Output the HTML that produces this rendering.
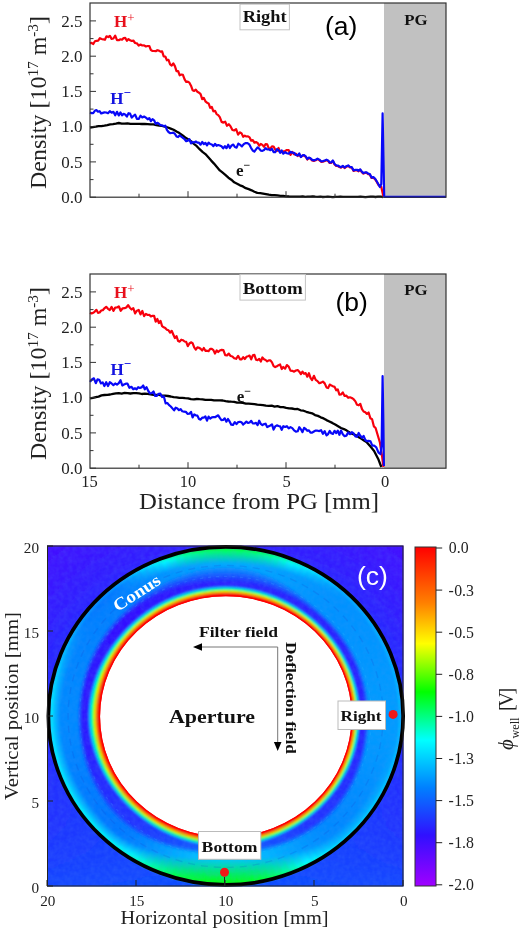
<!DOCTYPE html>
<html lang="en"><head><meta charset="utf-8"><title>Figure</title>
<style>html,body{margin:0;padding:0;background:#fff}svg{display:block}</style></head>
<body>
<svg width="520" height="932" viewBox="0 0 520 932">
<defs>
<linearGradient id="cb" x1="0" y1="0" x2="0" y2="1">
<stop offset="0.0000" stop-color="#ff0000"/>
<stop offset="0.1650" stop-color="#ff8000"/>
<stop offset="0.2850" stop-color="#ffff00"/>
<stop offset="0.4275" stop-color="#00ff00"/>
<stop offset="0.5700" stop-color="#00ffff"/>
<stop offset="0.7100" stop-color="#0080ff"/>
<stop offset="0.8500" stop-color="#3010ff"/>
<stop offset="1.0000" stop-color="#a000ff"/>
</linearGradient>
<radialGradient id="w0" gradientUnits="userSpaceOnUse" cx="0" cy="0" r="10">
<stop offset="0.6580" stop-color="#ff0000"/>
<stop offset="0.7170" stop-color="#ff0000"/>
<stop offset="0.7238" stop-color="#ff6b00"/>
<stop offset="0.7307" stop-color="#fff600"/>
<stop offset="0.7375" stop-color="#16ff00"/>
<stop offset="0.7443" stop-color="#00ffe1"/>
<stop offset="0.7512" stop-color="#0091ff"/>
<stop offset="0.7580" stop-color="#2920ff"/>
<stop offset="0.7830" stop-color="#2920ff"/>
<stop offset="0.8080" stop-color="#009bff"/>
<stop offset="0.9300" stop-color="#009bff"/>
<stop offset="0.9710" stop-color="#009bff"/>
<stop offset="0.9850" stop-color="#00c9ff"/>
</radialGradient>
<radialGradient id="w1" gradientUnits="userSpaceOnUse" cx="0" cy="0" r="10">
<stop offset="0.6580" stop-color="#ff0000"/>
<stop offset="0.7170" stop-color="#ff0000"/>
<stop offset="0.7238" stop-color="#ff6b00"/>
<stop offset="0.7307" stop-color="#fff600"/>
<stop offset="0.7375" stop-color="#16ff00"/>
<stop offset="0.7443" stop-color="#00ffe1"/>
<stop offset="0.7511" stop-color="#0091ff"/>
<stop offset="0.7580" stop-color="#2920ff"/>
<stop offset="0.7831" stop-color="#2920ff"/>
<stop offset="0.8081" stop-color="#009bff"/>
<stop offset="0.9300" stop-color="#009bff"/>
<stop offset="0.9710" stop-color="#009bff"/>
<stop offset="0.9850" stop-color="#00c8ff"/>
</radialGradient>
<radialGradient id="w2" gradientUnits="userSpaceOnUse" cx="0" cy="0" r="10">
<stop offset="0.6580" stop-color="#ff0000"/>
<stop offset="0.7170" stop-color="#ff0000"/>
<stop offset="0.7238" stop-color="#ff6b00"/>
<stop offset="0.7306" stop-color="#fff600"/>
<stop offset="0.7374" stop-color="#16ff00"/>
<stop offset="0.7443" stop-color="#00ffe1"/>
<stop offset="0.7511" stop-color="#0091ff"/>
<stop offset="0.7579" stop-color="#2920ff"/>
<stop offset="0.7832" stop-color="#2920ff"/>
<stop offset="0.8082" stop-color="#009bff"/>
<stop offset="0.9300" stop-color="#009bff"/>
<stop offset="0.9710" stop-color="#009bff"/>
<stop offset="0.9850" stop-color="#00c8ff"/>
</radialGradient>
<radialGradient id="w3" gradientUnits="userSpaceOnUse" cx="0" cy="0" r="10">
<stop offset="0.6580" stop-color="#ff0000"/>
<stop offset="0.7170" stop-color="#ff0000"/>
<stop offset="0.7238" stop-color="#ff6b00"/>
<stop offset="0.7306" stop-color="#fff600"/>
<stop offset="0.7374" stop-color="#16ff00"/>
<stop offset="0.7442" stop-color="#00ffe1"/>
<stop offset="0.7510" stop-color="#0091ff"/>
<stop offset="0.7578" stop-color="#2920ff"/>
<stop offset="0.7833" stop-color="#2920ff"/>
<stop offset="0.8083" stop-color="#009aff"/>
<stop offset="0.9300" stop-color="#009aff"/>
<stop offset="0.9710" stop-color="#009aff"/>
<stop offset="0.9850" stop-color="#00c8ff"/>
</radialGradient>
<radialGradient id="w4" gradientUnits="userSpaceOnUse" cx="0" cy="0" r="10">
<stop offset="0.6580" stop-color="#ff0000"/>
<stop offset="0.7170" stop-color="#ff0000"/>
<stop offset="0.7238" stop-color="#ff6b00"/>
<stop offset="0.7306" stop-color="#fff600"/>
<stop offset="0.7373" stop-color="#16ff00"/>
<stop offset="0.7441" stop-color="#00ffe1"/>
<stop offset="0.7509" stop-color="#0091ff"/>
<stop offset="0.7577" stop-color="#2920ff"/>
<stop offset="0.7835" stop-color="#2920ff"/>
<stop offset="0.8085" stop-color="#009aff"/>
<stop offset="0.9300" stop-color="#009aff"/>
<stop offset="0.9710" stop-color="#009aff"/>
<stop offset="0.9850" stop-color="#00c7ff"/>
</radialGradient>
<radialGradient id="w5" gradientUnits="userSpaceOnUse" cx="0" cy="0" r="10">
<stop offset="0.6580" stop-color="#ff0000"/>
<stop offset="0.7170" stop-color="#ff0000"/>
<stop offset="0.7238" stop-color="#ff6b00"/>
<stop offset="0.7305" stop-color="#fff600"/>
<stop offset="0.7373" stop-color="#16ff00"/>
<stop offset="0.7440" stop-color="#00ffe1"/>
<stop offset="0.7508" stop-color="#0091ff"/>
<stop offset="0.7576" stop-color="#2920ff"/>
<stop offset="0.7837" stop-color="#2920ff"/>
<stop offset="0.8087" stop-color="#0099ff"/>
<stop offset="0.9300" stop-color="#0099ff"/>
<stop offset="0.9710" stop-color="#0099ff"/>
<stop offset="0.9850" stop-color="#00c7ff"/>
</radialGradient>
<radialGradient id="w6" gradientUnits="userSpaceOnUse" cx="0" cy="0" r="10">
<stop offset="0.6580" stop-color="#ff0000"/>
<stop offset="0.7170" stop-color="#ff0000"/>
<stop offset="0.7237" stop-color="#ff6b00"/>
<stop offset="0.7305" stop-color="#fff600"/>
<stop offset="0.7372" stop-color="#16ff00"/>
<stop offset="0.7439" stop-color="#00ffe1"/>
<stop offset="0.7507" stop-color="#0091ff"/>
<stop offset="0.7574" stop-color="#2920ff"/>
<stop offset="0.7839" stop-color="#2920ff"/>
<stop offset="0.8089" stop-color="#0099ff"/>
<stop offset="0.9300" stop-color="#0099ff"/>
<stop offset="0.9710" stop-color="#0099ff"/>
<stop offset="0.9850" stop-color="#00c6ff"/>
</radialGradient>
<radialGradient id="w7" gradientUnits="userSpaceOnUse" cx="0" cy="0" r="10">
<stop offset="0.6580" stop-color="#ff0000"/>
<stop offset="0.7170" stop-color="#ff0000"/>
<stop offset="0.7237" stop-color="#ff6b00"/>
<stop offset="0.7304" stop-color="#fff600"/>
<stop offset="0.7371" stop-color="#16ff00"/>
<stop offset="0.7438" stop-color="#00ffe1"/>
<stop offset="0.7505" stop-color="#0091ff"/>
<stop offset="0.7572" stop-color="#2920ff"/>
<stop offset="0.7841" stop-color="#2920ff"/>
<stop offset="0.8091" stop-color="#0098ff"/>
<stop offset="0.9300" stop-color="#0098ff"/>
<stop offset="0.9710" stop-color="#0098ff"/>
<stop offset="0.9850" stop-color="#00c5ff"/>
</radialGradient>
<radialGradient id="w8" gradientUnits="userSpaceOnUse" cx="0" cy="0" r="10">
<stop offset="0.6580" stop-color="#ff0000"/>
<stop offset="0.7170" stop-color="#ff0000"/>
<stop offset="0.7237" stop-color="#ff6b00"/>
<stop offset="0.7304" stop-color="#fff600"/>
<stop offset="0.7370" stop-color="#16ff00"/>
<stop offset="0.7437" stop-color="#00ffe1"/>
<stop offset="0.7504" stop-color="#0091ff"/>
<stop offset="0.7571" stop-color="#2920ff"/>
<stop offset="0.7844" stop-color="#2920ff"/>
<stop offset="0.8094" stop-color="#0097ff"/>
<stop offset="0.9300" stop-color="#0097ff"/>
<stop offset="0.9710" stop-color="#0097ff"/>
<stop offset="0.9850" stop-color="#00c4ff"/>
</radialGradient>
<radialGradient id="w9" gradientUnits="userSpaceOnUse" cx="0" cy="0" r="10">
<stop offset="0.6580" stop-color="#ff0000"/>
<stop offset="0.7170" stop-color="#ff0000"/>
<stop offset="0.7237" stop-color="#ff6b00"/>
<stop offset="0.7303" stop-color="#fff600"/>
<stop offset="0.7370" stop-color="#16ff00"/>
<stop offset="0.7436" stop-color="#00ffe1"/>
<stop offset="0.7503" stop-color="#0091ff"/>
<stop offset="0.7569" stop-color="#2920ff"/>
<stop offset="0.7846" stop-color="#2920ff"/>
<stop offset="0.8096" stop-color="#0096ff"/>
<stop offset="0.9300" stop-color="#0096ff"/>
<stop offset="0.9710" stop-color="#0096ff"/>
<stop offset="0.9850" stop-color="#00c4ff"/>
</radialGradient>
<radialGradient id="w10" gradientUnits="userSpaceOnUse" cx="0" cy="0" r="10">
<stop offset="0.6580" stop-color="#ff0000"/>
<stop offset="0.7170" stop-color="#ff0000"/>
<stop offset="0.7236" stop-color="#ff6b00"/>
<stop offset="0.7303" stop-color="#fff600"/>
<stop offset="0.7369" stop-color="#16ff00"/>
<stop offset="0.7435" stop-color="#00ffe1"/>
<stop offset="0.7501" stop-color="#0091ff"/>
<stop offset="0.7568" stop-color="#2920ff"/>
<stop offset="0.7849" stop-color="#2920ff"/>
<stop offset="0.8099" stop-color="#0096ff"/>
<stop offset="0.9300" stop-color="#0096ff"/>
<stop offset="0.9710" stop-color="#0096ff"/>
<stop offset="0.9850" stop-color="#00c3ff"/>
</radialGradient>
<radialGradient id="w11" gradientUnits="userSpaceOnUse" cx="0" cy="0" r="10">
<stop offset="0.6580" stop-color="#ff0000"/>
<stop offset="0.7170" stop-color="#ff0000"/>
<stop offset="0.7236" stop-color="#ff6b00"/>
<stop offset="0.7302" stop-color="#fff600"/>
<stop offset="0.7368" stop-color="#16ff00"/>
<stop offset="0.7434" stop-color="#00ffe1"/>
<stop offset="0.7500" stop-color="#0091ff"/>
<stop offset="0.7566" stop-color="#2920ff"/>
<stop offset="0.7851" stop-color="#2920ff"/>
<stop offset="0.8101" stop-color="#0095ff"/>
<stop offset="0.9300" stop-color="#0095ff"/>
<stop offset="0.9710" stop-color="#0095ff"/>
<stop offset="0.9850" stop-color="#00c2ff"/>
</radialGradient>
<radialGradient id="w12" gradientUnits="userSpaceOnUse" cx="0" cy="0" r="10">
<stop offset="0.6580" stop-color="#ff0000"/>
<stop offset="0.7170" stop-color="#ff0000"/>
<stop offset="0.7236" stop-color="#ff6b00"/>
<stop offset="0.7301" stop-color="#fff600"/>
<stop offset="0.7367" stop-color="#16ff00"/>
<stop offset="0.7433" stop-color="#00ffe1"/>
<stop offset="0.7499" stop-color="#0091ff"/>
<stop offset="0.7564" stop-color="#2920ff"/>
<stop offset="0.7853" stop-color="#2920ff"/>
<stop offset="0.8103" stop-color="#0094ff"/>
<stop offset="0.9300" stop-color="#0094ff"/>
<stop offset="0.9710" stop-color="#0094ff"/>
<stop offset="0.9850" stop-color="#00c2ff"/>
</radialGradient>
<radialGradient id="w13" gradientUnits="userSpaceOnUse" cx="0" cy="0" r="10">
<stop offset="0.6580" stop-color="#ff0000"/>
<stop offset="0.7170" stop-color="#ff0000"/>
<stop offset="0.7236" stop-color="#ff6b00"/>
<stop offset="0.7301" stop-color="#fff600"/>
<stop offset="0.7367" stop-color="#16ff00"/>
<stop offset="0.7432" stop-color="#00ffe1"/>
<stop offset="0.7498" stop-color="#0091ff"/>
<stop offset="0.7563" stop-color="#2920ff"/>
<stop offset="0.7855" stop-color="#2920ff"/>
<stop offset="0.8105" stop-color="#0094ff"/>
<stop offset="0.9300" stop-color="#0094ff"/>
<stop offset="0.9710" stop-color="#0094ff"/>
<stop offset="0.9850" stop-color="#00c1ff"/>
</radialGradient>
<radialGradient id="w14" gradientUnits="userSpaceOnUse" cx="0" cy="0" r="10">
<stop offset="0.6580" stop-color="#ff0000"/>
<stop offset="0.7170" stop-color="#ff0000"/>
<stop offset="0.7235" stop-color="#ff6b00"/>
<stop offset="0.7301" stop-color="#fff600"/>
<stop offset="0.7366" stop-color="#16ff00"/>
<stop offset="0.7431" stop-color="#00ffe1"/>
<stop offset="0.7497" stop-color="#0091ff"/>
<stop offset="0.7562" stop-color="#2920ff"/>
<stop offset="0.7857" stop-color="#2920ff"/>
<stop offset="0.8107" stop-color="#0093ff"/>
<stop offset="0.9300" stop-color="#0093ff"/>
<stop offset="0.9710" stop-color="#0093ff"/>
<stop offset="0.9850" stop-color="#00c1ff"/>
</radialGradient>
<radialGradient id="w15" gradientUnits="userSpaceOnUse" cx="0" cy="0" r="10">
<stop offset="0.6580" stop-color="#ff0000"/>
<stop offset="0.7170" stop-color="#ff0000"/>
<stop offset="0.7235" stop-color="#ff6b00"/>
<stop offset="0.7300" stop-color="#fff600"/>
<stop offset="0.7366" stop-color="#16ff00"/>
<stop offset="0.7431" stop-color="#00ffe1"/>
<stop offset="0.7496" stop-color="#0091ff"/>
<stop offset="0.7561" stop-color="#2920ff"/>
<stop offset="0.7858" stop-color="#2920ff"/>
<stop offset="0.8108" stop-color="#0093ff"/>
<stop offset="0.9300" stop-color="#0093ff"/>
<stop offset="0.9710" stop-color="#0093ff"/>
<stop offset="0.9850" stop-color="#00c0ff"/>
</radialGradient>
<radialGradient id="w16" gradientUnits="userSpaceOnUse" cx="0" cy="0" r="10">
<stop offset="0.6580" stop-color="#ff0000"/>
<stop offset="0.7170" stop-color="#ff0000"/>
<stop offset="0.7235" stop-color="#ff6b00"/>
<stop offset="0.7300" stop-color="#fff600"/>
<stop offset="0.7365" stop-color="#16ff00"/>
<stop offset="0.7430" stop-color="#00ffe1"/>
<stop offset="0.7495" stop-color="#0091ff"/>
<stop offset="0.7560" stop-color="#2920ff"/>
<stop offset="0.7859" stop-color="#2920ff"/>
<stop offset="0.8109" stop-color="#0092ff"/>
<stop offset="0.9300" stop-color="#0092ff"/>
<stop offset="0.9710" stop-color="#0093ff"/>
<stop offset="0.9850" stop-color="#00c0ff"/>
</radialGradient>
<radialGradient id="w17" gradientUnits="userSpaceOnUse" cx="0" cy="0" r="10">
<stop offset="0.6580" stop-color="#ff0000"/>
<stop offset="0.7170" stop-color="#ff0000"/>
<stop offset="0.7235" stop-color="#ff6b00"/>
<stop offset="0.7300" stop-color="#fff600"/>
<stop offset="0.7365" stop-color="#16ff00"/>
<stop offset="0.7430" stop-color="#00ffe1"/>
<stop offset="0.7495" stop-color="#0091ff"/>
<stop offset="0.7560" stop-color="#2920ff"/>
<stop offset="0.7860" stop-color="#2920ff"/>
<stop offset="0.8110" stop-color="#0092ff"/>
<stop offset="0.9300" stop-color="#0092ff"/>
<stop offset="0.9710" stop-color="#0093ff"/>
<stop offset="0.9850" stop-color="#00c1ff"/>
</radialGradient>
<radialGradient id="w18" gradientUnits="userSpaceOnUse" cx="0" cy="0" r="10">
<stop offset="0.6580" stop-color="#ff0000"/>
<stop offset="0.7170" stop-color="#ff0000"/>
<stop offset="0.7235" stop-color="#ff6b00"/>
<stop offset="0.7300" stop-color="#fff600"/>
<stop offset="0.7365" stop-color="#16ff00"/>
<stop offset="0.7430" stop-color="#00ffe1"/>
<stop offset="0.7495" stop-color="#0091ff"/>
<stop offset="0.7560" stop-color="#2920ff"/>
<stop offset="0.7860" stop-color="#2920ff"/>
<stop offset="0.8112" stop-color="#0092ff"/>
<stop offset="0.9299" stop-color="#0092ff"/>
<stop offset="0.9710" stop-color="#0094ff"/>
<stop offset="0.9850" stop-color="#00c2ff"/>
</radialGradient>
<radialGradient id="w19" gradientUnits="userSpaceOnUse" cx="0" cy="0" r="10">
<stop offset="0.6580" stop-color="#ff0000"/>
<stop offset="0.7170" stop-color="#ff0000"/>
<stop offset="0.7235" stop-color="#ff6b00"/>
<stop offset="0.7301" stop-color="#fff600"/>
<stop offset="0.7366" stop-color="#16ff00"/>
<stop offset="0.7431" stop-color="#00ffe1"/>
<stop offset="0.7497" stop-color="#0091ff"/>
<stop offset="0.7562" stop-color="#2920ff"/>
<stop offset="0.7860" stop-color="#2920ff"/>
<stop offset="0.8125" stop-color="#0093ff"/>
<stop offset="0.9293" stop-color="#0093ff"/>
<stop offset="0.9710" stop-color="#0098ff"/>
<stop offset="0.9850" stop-color="#00c5ff"/>
</radialGradient>
<radialGradient id="w20" gradientUnits="userSpaceOnUse" cx="0" cy="0" r="10">
<stop offset="0.6580" stop-color="#ff0000"/>
<stop offset="0.7170" stop-color="#ff0000"/>
<stop offset="0.7236" stop-color="#ff6b00"/>
<stop offset="0.7302" stop-color="#fff600"/>
<stop offset="0.7368" stop-color="#16ff00"/>
<stop offset="0.7434" stop-color="#00ffe1"/>
<stop offset="0.7499" stop-color="#0091ff"/>
<stop offset="0.7565" stop-color="#2920ff"/>
<stop offset="0.7860" stop-color="#2920ff"/>
<stop offset="0.8149" stop-color="#0093ff"/>
<stop offset="0.9282" stop-color="#0093ff"/>
<stop offset="0.9710" stop-color="#009eff"/>
<stop offset="0.9850" stop-color="#00ccff"/>
</radialGradient>
<radialGradient id="w21" gradientUnits="userSpaceOnUse" cx="0" cy="0" r="10">
<stop offset="0.6580" stop-color="#ff0000"/>
<stop offset="0.7170" stop-color="#ff0000"/>
<stop offset="0.7237" stop-color="#ff6b00"/>
<stop offset="0.7303" stop-color="#fff600"/>
<stop offset="0.7370" stop-color="#16ff00"/>
<stop offset="0.7437" stop-color="#00ffe1"/>
<stop offset="0.7503" stop-color="#0091ff"/>
<stop offset="0.7570" stop-color="#2920ff"/>
<stop offset="0.7860" stop-color="#2920ff"/>
<stop offset="0.8184" stop-color="#0094ff"/>
<stop offset="0.9265" stop-color="#0094ff"/>
<stop offset="0.9710" stop-color="#00a7ff"/>
<stop offset="0.9850" stop-color="#00d5ff"/>
</radialGradient>
<radialGradient id="w22" gradientUnits="userSpaceOnUse" cx="0" cy="0" r="10">
<stop offset="0.6580" stop-color="#ff0000"/>
<stop offset="0.7170" stop-color="#ff0000"/>
<stop offset="0.7238" stop-color="#ff6b00"/>
<stop offset="0.7305" stop-color="#fff600"/>
<stop offset="0.7373" stop-color="#16ff00"/>
<stop offset="0.7440" stop-color="#00ffe1"/>
<stop offset="0.7508" stop-color="#0091ff"/>
<stop offset="0.7576" stop-color="#2920ff"/>
<stop offset="0.7860" stop-color="#2920ff"/>
<stop offset="0.8227" stop-color="#0096ff"/>
<stop offset="0.9245" stop-color="#0096ff"/>
<stop offset="0.9710" stop-color="#00b3ff"/>
<stop offset="0.9850" stop-color="#00e0ff"/>
</radialGradient>
<radialGradient id="w23" gradientUnits="userSpaceOnUse" cx="0" cy="0" r="10">
<stop offset="0.6580" stop-color="#ff0000"/>
<stop offset="0.7170" stop-color="#ff0000"/>
<stop offset="0.7239" stop-color="#ff6b00"/>
<stop offset="0.7307" stop-color="#fff600"/>
<stop offset="0.7376" stop-color="#16ff00"/>
<stop offset="0.7445" stop-color="#00ffe1"/>
<stop offset="0.7514" stop-color="#0091ff"/>
<stop offset="0.7582" stop-color="#2920ff"/>
<stop offset="0.7860" stop-color="#2920ff"/>
<stop offset="0.8277" stop-color="#0097ff"/>
<stop offset="0.9222" stop-color="#0097ff"/>
<stop offset="0.9710" stop-color="#00c0ff"/>
<stop offset="0.9850" stop-color="#00edff"/>
</radialGradient>
<radialGradient id="w24" gradientUnits="userSpaceOnUse" cx="0" cy="0" r="10">
<stop offset="0.6580" stop-color="#ff0000"/>
<stop offset="0.7170" stop-color="#ff0000"/>
<stop offset="0.7240" stop-color="#ff6b00"/>
<stop offset="0.7310" stop-color="#fff600"/>
<stop offset="0.7380" stop-color="#16ff00"/>
<stop offset="0.7450" stop-color="#00ffe1"/>
<stop offset="0.7520" stop-color="#0091ff"/>
<stop offset="0.7590" stop-color="#2920ff"/>
<stop offset="0.7860" stop-color="#2920ff"/>
<stop offset="0.8333" stop-color="#0099ff"/>
<stop offset="0.9196" stop-color="#0099ff"/>
<stop offset="0.9710" stop-color="#00cfff"/>
<stop offset="0.9850" stop-color="#00fdff"/>
</radialGradient>
<radialGradient id="w25" gradientUnits="userSpaceOnUse" cx="0" cy="0" r="10">
<stop offset="0.6580" stop-color="#ff0000"/>
<stop offset="0.7170" stop-color="#ff0000"/>
<stop offset="0.7241" stop-color="#ff6b00"/>
<stop offset="0.7313" stop-color="#fff600"/>
<stop offset="0.7384" stop-color="#16ff00"/>
<stop offset="0.7455" stop-color="#00ffe1"/>
<stop offset="0.7526" stop-color="#0091ff"/>
<stop offset="0.7598" stop-color="#2920ff"/>
<stop offset="0.7860" stop-color="#2920ff"/>
<stop offset="0.8392" stop-color="#009bff"/>
<stop offset="0.9168" stop-color="#009bff"/>
<stop offset="0.9710" stop-color="#00e0ff"/>
<stop offset="0.9850" stop-color="#00ffe3"/>
</radialGradient>
<radialGradient id="w26" gradientUnits="userSpaceOnUse" cx="0" cy="0" r="10">
<stop offset="0.6580" stop-color="#ff0000"/>
<stop offset="0.7170" stop-color="#ff0000"/>
<stop offset="0.7243" stop-color="#ff6b00"/>
<stop offset="0.7315" stop-color="#fff600"/>
<stop offset="0.7388" stop-color="#16ff00"/>
<stop offset="0.7461" stop-color="#00ffe1"/>
<stop offset="0.7533" stop-color="#0091ff"/>
<stop offset="0.7606" stop-color="#2920ff"/>
<stop offset="0.7860" stop-color="#2920ff"/>
<stop offset="0.8454" stop-color="#009dff"/>
<stop offset="0.9140" stop-color="#009dff"/>
<stop offset="0.9710" stop-color="#00f1ff"/>
<stop offset="0.9850" stop-color="#00ffc0"/>
</radialGradient>
<radialGradient id="w27" gradientUnits="userSpaceOnUse" cx="0" cy="0" r="10">
<stop offset="0.6580" stop-color="#ff0000"/>
<stop offset="0.7170" stop-color="#ff0000"/>
<stop offset="0.7244" stop-color="#ff6b00"/>
<stop offset="0.7318" stop-color="#fff600"/>
<stop offset="0.7392" stop-color="#16ff00"/>
<stop offset="0.7466" stop-color="#00ffe1"/>
<stop offset="0.7540" stop-color="#0091ff"/>
<stop offset="0.7614" stop-color="#2920ff"/>
<stop offset="0.7860" stop-color="#2920ff"/>
<stop offset="0.8516" stop-color="#009eff"/>
<stop offset="0.9110" stop-color="#009eff"/>
<stop offset="0.9710" stop-color="#00fff8"/>
<stop offset="0.9850" stop-color="#00ff9e"/>
</radialGradient>
<radialGradient id="w28" gradientUnits="userSpaceOnUse" cx="0" cy="0" r="10">
<stop offset="0.6580" stop-color="#ff0000"/>
<stop offset="0.7170" stop-color="#ff0000"/>
<stop offset="0.7245" stop-color="#ff6b00"/>
<stop offset="0.7321" stop-color="#fff600"/>
<stop offset="0.7396" stop-color="#16ff00"/>
<stop offset="0.7472" stop-color="#00ffe1"/>
<stop offset="0.7547" stop-color="#0091ff"/>
<stop offset="0.7622" stop-color="#2920ff"/>
<stop offset="0.7860" stop-color="#2920ff"/>
<stop offset="0.8578" stop-color="#00a0ff"/>
<stop offset="0.9082" stop-color="#00a0ff"/>
<stop offset="0.9710" stop-color="#00ffd7"/>
<stop offset="0.9850" stop-color="#00ff7e"/>
</radialGradient>
<radialGradient id="w29" gradientUnits="userSpaceOnUse" cx="0" cy="0" r="10">
<stop offset="0.6580" stop-color="#ff0000"/>
<stop offset="0.7170" stop-color="#ff0000"/>
<stop offset="0.7247" stop-color="#ff6b00"/>
<stop offset="0.7323" stop-color="#fff600"/>
<stop offset="0.7400" stop-color="#16ff00"/>
<stop offset="0.7477" stop-color="#00ffe1"/>
<stop offset="0.7554" stop-color="#0091ff"/>
<stop offset="0.7630" stop-color="#2920ff"/>
<stop offset="0.7860" stop-color="#2920ff"/>
<stop offset="0.8637" stop-color="#00a2ff"/>
<stop offset="0.9054" stop-color="#00a2ff"/>
<stop offset="0.9710" stop-color="#00ffba"/>
<stop offset="0.9850" stop-color="#00ff60"/>
</radialGradient>
<radialGradient id="w30" gradientUnits="userSpaceOnUse" cx="0" cy="0" r="10">
<stop offset="0.6580" stop-color="#ff0000"/>
<stop offset="0.7170" stop-color="#ff0000"/>
<stop offset="0.7248" stop-color="#ff6b00"/>
<stop offset="0.7326" stop-color="#fff600"/>
<stop offset="0.7404" stop-color="#16ff00"/>
<stop offset="0.7482" stop-color="#00ffe1"/>
<stop offset="0.7560" stop-color="#0091ff"/>
<stop offset="0.7638" stop-color="#2920ff"/>
<stop offset="0.7860" stop-color="#2920ff"/>
<stop offset="0.8693" stop-color="#00a4ff"/>
<stop offset="0.9028" stop-color="#00a4ff"/>
<stop offset="0.9710" stop-color="#00ffa0"/>
<stop offset="0.9850" stop-color="#00ff47"/>
</radialGradient>
<radialGradient id="w31" gradientUnits="userSpaceOnUse" cx="0" cy="0" r="10">
<stop offset="0.6580" stop-color="#ff0000"/>
<stop offset="0.7170" stop-color="#ff0000"/>
<stop offset="0.7249" stop-color="#ff6b00"/>
<stop offset="0.7328" stop-color="#fff600"/>
<stop offset="0.7407" stop-color="#16ff00"/>
<stop offset="0.7486" stop-color="#00ffe1"/>
<stop offset="0.7565" stop-color="#0091ff"/>
<stop offset="0.7644" stop-color="#2920ff"/>
<stop offset="0.7860" stop-color="#2920ff"/>
<stop offset="0.8743" stop-color="#00a5ff"/>
<stop offset="0.9005" stop-color="#00a5ff"/>
<stop offset="0.9710" stop-color="#00ff8c"/>
<stop offset="0.9850" stop-color="#00ff32"/>
</radialGradient>
<radialGradient id="w32" gradientUnits="userSpaceOnUse" cx="0" cy="0" r="10">
<stop offset="0.6580" stop-color="#ff0000"/>
<stop offset="0.7170" stop-color="#ff0000"/>
<stop offset="0.7250" stop-color="#ff6b00"/>
<stop offset="0.7330" stop-color="#fff600"/>
<stop offset="0.7410" stop-color="#16ff00"/>
<stop offset="0.7490" stop-color="#00ffe1"/>
<stop offset="0.7570" stop-color="#0091ff"/>
<stop offset="0.7650" stop-color="#2920ff"/>
<stop offset="0.7860" stop-color="#2920ff"/>
<stop offset="0.8786" stop-color="#00a7ff"/>
<stop offset="0.8985" stop-color="#00a7ff"/>
<stop offset="0.9710" stop-color="#00ff7c"/>
<stop offset="0.9850" stop-color="#00ff23"/>
</radialGradient>
<radialGradient id="w33" gradientUnits="userSpaceOnUse" cx="0" cy="0" r="10">
<stop offset="0.6580" stop-color="#ff0000"/>
<stop offset="0.7170" stop-color="#ff0000"/>
<stop offset="0.7251" stop-color="#ff6b00"/>
<stop offset="0.7332" stop-color="#fff600"/>
<stop offset="0.7412" stop-color="#16ff00"/>
<stop offset="0.7493" stop-color="#00ffe1"/>
<stop offset="0.7574" stop-color="#0091ff"/>
<stop offset="0.7655" stop-color="#2920ff"/>
<stop offset="0.7860" stop-color="#2920ff"/>
<stop offset="0.8821" stop-color="#00a8ff"/>
<stop offset="0.8968" stop-color="#00a8ff"/>
<stop offset="0.9710" stop-color="#00ff71"/>
<stop offset="0.9850" stop-color="#00ff18"/>
</radialGradient>
<radialGradient id="w34" gradientUnits="userSpaceOnUse" cx="0" cy="0" r="10">
<stop offset="0.6580" stop-color="#ff0000"/>
<stop offset="0.7170" stop-color="#ff0000"/>
<stop offset="0.7251" stop-color="#ff6b00"/>
<stop offset="0.7333" stop-color="#fff600"/>
<stop offset="0.7414" stop-color="#16ff00"/>
<stop offset="0.7495" stop-color="#00ffe1"/>
<stop offset="0.7577" stop-color="#0091ff"/>
<stop offset="0.7658" stop-color="#2920ff"/>
<stop offset="0.7860" stop-color="#2920ff"/>
<stop offset="0.8845" stop-color="#00a8ff"/>
<stop offset="0.8957" stop-color="#00a8ff"/>
<stop offset="0.9710" stop-color="#00ff6a"/>
<stop offset="0.9850" stop-color="#00ff11"/>
</radialGradient>
<radialGradient id="w35" gradientUnits="userSpaceOnUse" cx="0" cy="0" r="10">
<stop offset="0.6580" stop-color="#ff0000"/>
<stop offset="0.7170" stop-color="#ff0000"/>
<stop offset="0.7252" stop-color="#ff6b00"/>
<stop offset="0.7333" stop-color="#fff600"/>
<stop offset="0.7415" stop-color="#16ff00"/>
<stop offset="0.7497" stop-color="#00ffe1"/>
<stop offset="0.7578" stop-color="#0091ff"/>
<stop offset="0.7660" stop-color="#2920ff"/>
<stop offset="0.7860" stop-color="#2920ff"/>
<stop offset="0.8858" stop-color="#00a9ff"/>
<stop offset="0.8951" stop-color="#00a9ff"/>
<stop offset="0.9710" stop-color="#00ff67"/>
<stop offset="0.9850" stop-color="#00ff0e"/>
</radialGradient>
<radialGradient id="w36" gradientUnits="userSpaceOnUse" cx="0" cy="0" r="10">
<stop offset="0.6580" stop-color="#ff0000"/>
<stop offset="0.7170" stop-color="#ff0000"/>
<stop offset="0.7252" stop-color="#ff6b00"/>
<stop offset="0.7333" stop-color="#fff600"/>
<stop offset="0.7415" stop-color="#16ff00"/>
<stop offset="0.7497" stop-color="#00ffe1"/>
<stop offset="0.7578" stop-color="#0091ff"/>
<stop offset="0.7660" stop-color="#2920ff"/>
<stop offset="0.7861" stop-color="#2920ff"/>
<stop offset="0.8859" stop-color="#00a9ff"/>
<stop offset="0.8951" stop-color="#00a9ff"/>
<stop offset="0.9710" stop-color="#00ff67"/>
<stop offset="0.9850" stop-color="#00ff0e"/>
</radialGradient>
<radialGradient id="w37" gradientUnits="userSpaceOnUse" cx="0" cy="0" r="10">
<stop offset="0.6580" stop-color="#ff0000"/>
<stop offset="0.7170" stop-color="#ff0000"/>
<stop offset="0.7252" stop-color="#ff6b00"/>
<stop offset="0.7333" stop-color="#fff600"/>
<stop offset="0.7415" stop-color="#16ff00"/>
<stop offset="0.7496" stop-color="#00ffe2"/>
<stop offset="0.7578" stop-color="#0090ff"/>
<stop offset="0.7659" stop-color="#2920ff"/>
<stop offset="0.7865" stop-color="#2920ff"/>
<stop offset="0.8852" stop-color="#00a8ff"/>
<stop offset="0.8955" stop-color="#00a8ff"/>
<stop offset="0.9710" stop-color="#00ff6b"/>
<stop offset="0.9850" stop-color="#00ff11"/>
</radialGradient>
<radialGradient id="w38" gradientUnits="userSpaceOnUse" cx="0" cy="0" r="10">
<stop offset="0.6580" stop-color="#ff0000"/>
<stop offset="0.7170" stop-color="#ff0000"/>
<stop offset="0.7251" stop-color="#ff6b00"/>
<stop offset="0.7333" stop-color="#fff700"/>
<stop offset="0.7414" stop-color="#15ff00"/>
<stop offset="0.7496" stop-color="#00ffe2"/>
<stop offset="0.7577" stop-color="#0090ff"/>
<stop offset="0.7658" stop-color="#2a1fff"/>
<stop offset="0.7874" stop-color="#2a1fff"/>
<stop offset="0.8837" stop-color="#00a7ff"/>
<stop offset="0.8963" stop-color="#00a7ff"/>
<stop offset="0.9710" stop-color="#00ff72"/>
<stop offset="0.9850" stop-color="#00ff18"/>
</radialGradient>
<radialGradient id="w39" gradientUnits="userSpaceOnUse" cx="0" cy="0" r="10">
<stop offset="0.6580" stop-color="#ff0000"/>
<stop offset="0.7170" stop-color="#ff0000"/>
<stop offset="0.7251" stop-color="#ff6c00"/>
<stop offset="0.7332" stop-color="#fff700"/>
<stop offset="0.7414" stop-color="#15ff00"/>
<stop offset="0.7495" stop-color="#00ffe4"/>
<stop offset="0.7576" stop-color="#008fff"/>
<stop offset="0.7657" stop-color="#2a1eff"/>
<stop offset="0.7887" stop-color="#2a1eff"/>
<stop offset="0.8818" stop-color="#00a5ff"/>
<stop offset="0.8975" stop-color="#00a5ff"/>
<stop offset="0.9710" stop-color="#00ff7d"/>
<stop offset="0.9850" stop-color="#00ff24"/>
</radialGradient>
<radialGradient id="w40" gradientUnits="userSpaceOnUse" cx="0" cy="0" r="10">
<stop offset="0.6580" stop-color="#ff0000"/>
<stop offset="0.7170" stop-color="#ff0000"/>
<stop offset="0.7251" stop-color="#ff6c00"/>
<stop offset="0.7332" stop-color="#fff700"/>
<stop offset="0.7413" stop-color="#14ff00"/>
<stop offset="0.7494" stop-color="#00ffe5"/>
<stop offset="0.7574" stop-color="#008eff"/>
<stop offset="0.7655" stop-color="#2a1dff"/>
<stop offset="0.7902" stop-color="#2a1dff"/>
<stop offset="0.8793" stop-color="#00a2ff"/>
<stop offset="0.8989" stop-color="#00a2ff"/>
<stop offset="0.9710" stop-color="#00ff8e"/>
<stop offset="0.9850" stop-color="#00ff35"/>
</radialGradient>
<radialGradient id="w41" gradientUnits="userSpaceOnUse" cx="0" cy="0" r="10">
<stop offset="0.6580" stop-color="#ff0000"/>
<stop offset="0.7170" stop-color="#ff0000"/>
<stop offset="0.7251" stop-color="#ff6c00"/>
<stop offset="0.7331" stop-color="#fff800"/>
<stop offset="0.7412" stop-color="#12ff00"/>
<stop offset="0.7492" stop-color="#00ffe6"/>
<stop offset="0.7573" stop-color="#008dff"/>
<stop offset="0.7653" stop-color="#2b1cff"/>
<stop offset="0.7920" stop-color="#2b1cff"/>
<stop offset="0.8764" stop-color="#00a0ff"/>
<stop offset="0.9006" stop-color="#00a0ff"/>
<stop offset="0.9710" stop-color="#00ffa5"/>
<stop offset="0.9850" stop-color="#00ff4c"/>
</radialGradient>
<radialGradient id="w42" gradientUnits="userSpaceOnUse" cx="0" cy="0" r="10">
<stop offset="0.6580" stop-color="#ff0000"/>
<stop offset="0.7170" stop-color="#ff0000"/>
<stop offset="0.7250" stop-color="#ff6c00"/>
<stop offset="0.7330" stop-color="#fff800"/>
<stop offset="0.7411" stop-color="#11ff00"/>
<stop offset="0.7491" stop-color="#00ffe8"/>
<stop offset="0.7571" stop-color="#008cff"/>
<stop offset="0.7651" stop-color="#2b1bff"/>
<stop offset="0.7940" stop-color="#2b1bff"/>
<stop offset="0.8732" stop-color="#009dff"/>
<stop offset="0.9024" stop-color="#009dff"/>
<stop offset="0.9710" stop-color="#00ffc2"/>
<stop offset="0.9850" stop-color="#00ff68"/>
</radialGradient>
<radialGradient id="w43" gradientUnits="userSpaceOnUse" cx="0" cy="0" r="10">
<stop offset="0.6580" stop-color="#ff0000"/>
<stop offset="0.7170" stop-color="#ff0000"/>
<stop offset="0.7250" stop-color="#ff6c00"/>
<stop offset="0.7330" stop-color="#fff900"/>
<stop offset="0.7409" stop-color="#10ff00"/>
<stop offset="0.7489" stop-color="#00ffea"/>
<stop offset="0.7569" stop-color="#008bff"/>
<stop offset="0.7649" stop-color="#2c1aff"/>
<stop offset="0.7962" stop-color="#2c1aff"/>
<stop offset="0.8698" stop-color="#0099ff"/>
<stop offset="0.9044" stop-color="#0099ff"/>
<stop offset="0.9710" stop-color="#00ffe4"/>
<stop offset="0.9850" stop-color="#00ff8a"/>
</radialGradient>
<radialGradient id="w44" gradientUnits="userSpaceOnUse" cx="0" cy="0" r="10">
<stop offset="0.6580" stop-color="#ff0000"/>
<stop offset="0.7170" stop-color="#ff0000"/>
<stop offset="0.7249" stop-color="#ff6c00"/>
<stop offset="0.7329" stop-color="#fff900"/>
<stop offset="0.7408" stop-color="#0eff00"/>
<stop offset="0.7487" stop-color="#00ffec"/>
<stop offset="0.7567" stop-color="#008aff"/>
<stop offset="0.7646" stop-color="#2c19ff"/>
<stop offset="0.7984" stop-color="#2c19ff"/>
<stop offset="0.8663" stop-color="#0096ff"/>
<stop offset="0.9065" stop-color="#0096ff"/>
<stop offset="0.9710" stop-color="#00faff"/>
<stop offset="0.9850" stop-color="#00ffb0"/>
</radialGradient>
<radialGradient id="w45" gradientUnits="userSpaceOnUse" cx="0" cy="0" r="10">
<stop offset="0.6580" stop-color="#ff0000"/>
<stop offset="0.7170" stop-color="#ff0000"/>
<stop offset="0.7249" stop-color="#ff6d00"/>
<stop offset="0.7328" stop-color="#fffa00"/>
<stop offset="0.7407" stop-color="#0dff00"/>
<stop offset="0.7486" stop-color="#00ffee"/>
<stop offset="0.7565" stop-color="#0088ff"/>
<stop offset="0.7644" stop-color="#2d17ff"/>
<stop offset="0.8006" stop-color="#2d17ff"/>
<stop offset="0.8627" stop-color="#0093ff"/>
<stop offset="0.9085" stop-color="#0093ff"/>
<stop offset="0.9710" stop-color="#00e5ff"/>
<stop offset="0.9850" stop-color="#00ffd9"/>
</radialGradient>
<radialGradient id="w46" gradientUnits="userSpaceOnUse" cx="0" cy="0" r="10">
<stop offset="0.6580" stop-color="#ff0000"/>
<stop offset="0.7170" stop-color="#ff0000"/>
<stop offset="0.7249" stop-color="#ff6d00"/>
<stop offset="0.7327" stop-color="#fffb00"/>
<stop offset="0.7406" stop-color="#0bff00"/>
<stop offset="0.7484" stop-color="#00fff0"/>
<stop offset="0.7563" stop-color="#0087ff"/>
<stop offset="0.7641" stop-color="#2d16ff"/>
<stop offset="0.8028" stop-color="#2d16ff"/>
<stop offset="0.8592" stop-color="#008fff"/>
<stop offset="0.9106" stop-color="#008fff"/>
<stop offset="0.9710" stop-color="#00d1ff"/>
<stop offset="0.9850" stop-color="#00feff"/>
</radialGradient>
<radialGradient id="w47" gradientUnits="userSpaceOnUse" cx="0" cy="0" r="10">
<stop offset="0.6580" stop-color="#ff0000"/>
<stop offset="0.7170" stop-color="#ff0000"/>
<stop offset="0.7248" stop-color="#ff6d00"/>
<stop offset="0.7326" stop-color="#fffb00"/>
<stop offset="0.7404" stop-color="#0aff00"/>
<stop offset="0.7483" stop-color="#00fff2"/>
<stop offset="0.7561" stop-color="#0086ff"/>
<stop offset="0.7639" stop-color="#2e15ff"/>
<stop offset="0.8050" stop-color="#2e15ff"/>
<stop offset="0.8558" stop-color="#008cff"/>
<stop offset="0.9126" stop-color="#008cff"/>
<stop offset="0.9710" stop-color="#00bdff"/>
<stop offset="0.9850" stop-color="#00eaff"/>
</radialGradient>
<radialGradient id="w48" gradientUnits="userSpaceOnUse" cx="0" cy="0" r="10">
<stop offset="0.6580" stop-color="#ff0000"/>
<stop offset="0.7170" stop-color="#ff0000"/>
<stop offset="0.7248" stop-color="#ff6d00"/>
<stop offset="0.7326" stop-color="#fffc00"/>
<stop offset="0.7403" stop-color="#08ff00"/>
<stop offset="0.7481" stop-color="#00fff4"/>
<stop offset="0.7559" stop-color="#0085ff"/>
<stop offset="0.7637" stop-color="#2e14ff"/>
<stop offset="0.8070" stop-color="#2e14ff"/>
<stop offset="0.8526" stop-color="#0089ff"/>
<stop offset="0.9144" stop-color="#0089ff"/>
<stop offset="0.9710" stop-color="#00aaff"/>
<stop offset="0.9850" stop-color="#00d7ff"/>
</radialGradient>
<radialGradient id="w49" gradientUnits="userSpaceOnUse" cx="0" cy="0" r="10">
<stop offset="0.6580" stop-color="#ff0000"/>
<stop offset="0.7170" stop-color="#ff0000"/>
<stop offset="0.7247" stop-color="#ff6d00"/>
<stop offset="0.7325" stop-color="#fffc00"/>
<stop offset="0.7402" stop-color="#07ff00"/>
<stop offset="0.7480" stop-color="#00fff5"/>
<stop offset="0.7557" stop-color="#0084ff"/>
<stop offset="0.7635" stop-color="#2f13ff"/>
<stop offset="0.8088" stop-color="#2f13ff"/>
<stop offset="0.8497" stop-color="#0086ff"/>
<stop offset="0.9161" stop-color="#0086ff"/>
<stop offset="0.9710" stop-color="#009aff"/>
<stop offset="0.9850" stop-color="#00c7ff"/>
</radialGradient>
<radialGradient id="w50" gradientUnits="userSpaceOnUse" cx="0" cy="0" r="10">
<stop offset="0.6580" stop-color="#ff0000"/>
<stop offset="0.7170" stop-color="#ff0000"/>
<stop offset="0.7247" stop-color="#ff6e00"/>
<stop offset="0.7324" stop-color="#fffd00"/>
<stop offset="0.7401" stop-color="#06ff00"/>
<stop offset="0.7479" stop-color="#00fff7"/>
<stop offset="0.7556" stop-color="#0083ff"/>
<stop offset="0.7633" stop-color="#2f12ff"/>
<stop offset="0.8103" stop-color="#2f12ff"/>
<stop offset="0.8472" stop-color="#0084ff"/>
<stop offset="0.9175" stop-color="#0084ff"/>
<stop offset="0.9710" stop-color="#008cff"/>
<stop offset="0.9850" stop-color="#00b9ff"/>
</radialGradient>
<radialGradient id="w51" gradientUnits="userSpaceOnUse" cx="0" cy="0" r="10">
<stop offset="0.6580" stop-color="#ff0000"/>
<stop offset="0.7170" stop-color="#ff0000"/>
<stop offset="0.7247" stop-color="#ff6e00"/>
<stop offset="0.7324" stop-color="#fffd00"/>
<stop offset="0.7401" stop-color="#05ff00"/>
<stop offset="0.7478" stop-color="#00fff8"/>
<stop offset="0.7555" stop-color="#0082ff"/>
<stop offset="0.7632" stop-color="#3011ff"/>
<stop offset="0.8116" stop-color="#3011ff"/>
<stop offset="0.8453" stop-color="#0082ff"/>
<stop offset="0.9187" stop-color="#0082ff"/>
<stop offset="0.9710" stop-color="#0081ff"/>
<stop offset="0.9850" stop-color="#00afff"/>
</radialGradient>
<radialGradient id="w52" gradientUnits="userSpaceOnUse" cx="0" cy="0" r="10">
<stop offset="0.6580" stop-color="#ff0000"/>
<stop offset="0.7170" stop-color="#ff0000"/>
<stop offset="0.7247" stop-color="#ff6e00"/>
<stop offset="0.7324" stop-color="#fffd00"/>
<stop offset="0.7400" stop-color="#05ff00"/>
<stop offset="0.7477" stop-color="#00fff9"/>
<stop offset="0.7554" stop-color="#0082ff"/>
<stop offset="0.7631" stop-color="#3010ff"/>
<stop offset="0.8125" stop-color="#3010ff"/>
<stop offset="0.8438" stop-color="#0081ff"/>
<stop offset="0.9195" stop-color="#0081ff"/>
<stop offset="0.9710" stop-color="#027aff"/>
<stop offset="0.9850" stop-color="#00a7ff"/>
</radialGradient>
<radialGradient id="w53" gradientUnits="userSpaceOnUse" cx="0" cy="0" r="10">
<stop offset="0.6580" stop-color="#ff0000"/>
<stop offset="0.7170" stop-color="#ff0000"/>
<stop offset="0.7247" stop-color="#ff6e00"/>
<stop offset="0.7323" stop-color="#fffd00"/>
<stop offset="0.7400" stop-color="#05ff00"/>
<stop offset="0.7477" stop-color="#00fff9"/>
<stop offset="0.7553" stop-color="#0082ff"/>
<stop offset="0.7630" stop-color="#3010ff"/>
<stop offset="0.8129" stop-color="#3010ff"/>
<stop offset="0.8431" stop-color="#0080ff"/>
<stop offset="0.9199" stop-color="#0080ff"/>
<stop offset="0.9710" stop-color="#0476ff"/>
<stop offset="0.9850" stop-color="#00a2ff"/>
</radialGradient>
<radialGradient id="w54" gradientUnits="userSpaceOnUse" cx="0" cy="0" r="10">
<stop offset="0.6580" stop-color="#ff0000"/>
<stop offset="0.7170" stop-color="#ff0000"/>
<stop offset="0.7247" stop-color="#ff6e00"/>
<stop offset="0.7323" stop-color="#fffd00"/>
<stop offset="0.7400" stop-color="#04ff00"/>
<stop offset="0.7477" stop-color="#00fff9"/>
<stop offset="0.7554" stop-color="#0082ff"/>
<stop offset="0.7630" stop-color="#3010ff"/>
<stop offset="0.8130" stop-color="#3010ff"/>
<stop offset="0.8430" stop-color="#0080ff"/>
<stop offset="0.9200" stop-color="#0080ff"/>
<stop offset="0.9710" stop-color="#0575ff"/>
<stop offset="0.9850" stop-color="#00a1ff"/>
</radialGradient>
<radialGradient id="w55" gradientUnits="userSpaceOnUse" cx="0" cy="0" r="10">
<stop offset="0.6580" stop-color="#ff0000"/>
<stop offset="0.7170" stop-color="#ff0000"/>
<stop offset="0.7247" stop-color="#ff6e00"/>
<stop offset="0.7324" stop-color="#fffd00"/>
<stop offset="0.7401" stop-color="#05ff00"/>
<stop offset="0.7479" stop-color="#00fff9"/>
<stop offset="0.7556" stop-color="#0082ff"/>
<stop offset="0.7633" stop-color="#3010ff"/>
<stop offset="0.8129" stop-color="#3010ff"/>
<stop offset="0.8428" stop-color="#0080ff"/>
<stop offset="0.9202" stop-color="#0080ff"/>
<stop offset="0.9710" stop-color="#0476ff"/>
<stop offset="0.9850" stop-color="#00a2ff"/>
</radialGradient>
<radialGradient id="w56" gradientUnits="userSpaceOnUse" cx="0" cy="0" r="10">
<stop offset="0.6580" stop-color="#ff0000"/>
<stop offset="0.7170" stop-color="#ff0000"/>
<stop offset="0.7248" stop-color="#ff6e00"/>
<stop offset="0.7326" stop-color="#fffd00"/>
<stop offset="0.7404" stop-color="#05ff00"/>
<stop offset="0.7482" stop-color="#00fff8"/>
<stop offset="0.7560" stop-color="#0082ff"/>
<stop offset="0.7638" stop-color="#3010ff"/>
<stop offset="0.8127" stop-color="#3010ff"/>
<stop offset="0.8425" stop-color="#0080ff"/>
<stop offset="0.9205" stop-color="#0080ff"/>
<stop offset="0.9710" stop-color="#0378ff"/>
<stop offset="0.9850" stop-color="#00a5ff"/>
</radialGradient>
<radialGradient id="w57" gradientUnits="userSpaceOnUse" cx="0" cy="0" r="10">
<stop offset="0.6580" stop-color="#ff0000"/>
<stop offset="0.7170" stop-color="#ff0000"/>
<stop offset="0.7249" stop-color="#ff6e00"/>
<stop offset="0.7328" stop-color="#fffd00"/>
<stop offset="0.7407" stop-color="#05ff00"/>
<stop offset="0.7487" stop-color="#00fff8"/>
<stop offset="0.7566" stop-color="#0082ff"/>
<stop offset="0.7645" stop-color="#3011ff"/>
<stop offset="0.8125" stop-color="#3011ff"/>
<stop offset="0.8420" stop-color="#0081ff"/>
<stop offset="0.9210" stop-color="#0081ff"/>
<stop offset="0.9710" stop-color="#027cff"/>
<stop offset="0.9850" stop-color="#00a9ff"/>
</radialGradient>
<radialGradient id="w58" gradientUnits="userSpaceOnUse" cx="0" cy="0" r="10">
<stop offset="0.6580" stop-color="#ff0000"/>
<stop offset="0.7170" stop-color="#ff0000"/>
<stop offset="0.7251" stop-color="#ff6e00"/>
<stop offset="0.7331" stop-color="#fffd00"/>
<stop offset="0.7412" stop-color="#06ff00"/>
<stop offset="0.7492" stop-color="#00fff7"/>
<stop offset="0.7573" stop-color="#0083ff"/>
<stop offset="0.7653" stop-color="#2f11ff"/>
<stop offset="0.8122" stop-color="#2f11ff"/>
<stop offset="0.8414" stop-color="#0081ff"/>
<stop offset="0.9216" stop-color="#0081ff"/>
<stop offset="0.9710" stop-color="#0081ff"/>
<stop offset="0.9850" stop-color="#00aeff"/>
</radialGradient>
<radialGradient id="w59" gradientUnits="userSpaceOnUse" cx="0" cy="0" r="10">
<stop offset="0.6580" stop-color="#ff0000"/>
<stop offset="0.7170" stop-color="#ff0000"/>
<stop offset="0.7252" stop-color="#ff6e00"/>
<stop offset="0.7334" stop-color="#fffc00"/>
<stop offset="0.7417" stop-color="#06ff00"/>
<stop offset="0.7499" stop-color="#00fff6"/>
<stop offset="0.7581" stop-color="#0083ff"/>
<stop offset="0.7663" stop-color="#2f12ff"/>
<stop offset="0.8119" stop-color="#2f12ff"/>
<stop offset="0.8408" stop-color="#0082ff"/>
<stop offset="0.9222" stop-color="#0082ff"/>
<stop offset="0.9710" stop-color="#0087ff"/>
<stop offset="0.9850" stop-color="#00b4ff"/>
</radialGradient>
<radialGradient id="w60" gradientUnits="userSpaceOnUse" cx="0" cy="0" r="10">
<stop offset="0.6580" stop-color="#ff0000"/>
<stop offset="0.7170" stop-color="#ff0000"/>
<stop offset="0.7254" stop-color="#ff6e00"/>
<stop offset="0.7338" stop-color="#fffc00"/>
<stop offset="0.7422" stop-color="#07ff00"/>
<stop offset="0.7506" stop-color="#00fff5"/>
<stop offset="0.7590" stop-color="#0084ff"/>
<stop offset="0.7675" stop-color="#2f12ff"/>
<stop offset="0.8115" stop-color="#2f12ff"/>
<stop offset="0.8400" stop-color="#0083ff"/>
<stop offset="0.9230" stop-color="#0083ff"/>
<stop offset="0.9710" stop-color="#008dff"/>
<stop offset="0.9850" stop-color="#00bbff"/>
</radialGradient>
<radialGradient id="w61" gradientUnits="userSpaceOnUse" cx="0" cy="0" r="10">
<stop offset="0.6580" stop-color="#ff0000"/>
<stop offset="0.7170" stop-color="#ff0000"/>
<stop offset="0.7256" stop-color="#ff6d00"/>
<stop offset="0.7342" stop-color="#fffc00"/>
<stop offset="0.7428" stop-color="#08ff00"/>
<stop offset="0.7514" stop-color="#00fff5"/>
<stop offset="0.7600" stop-color="#0084ff"/>
<stop offset="0.7686" stop-color="#2f13ff"/>
<stop offset="0.8111" stop-color="#2f13ff"/>
<stop offset="0.8392" stop-color="#0083ff"/>
<stop offset="0.9238" stop-color="#0083ff"/>
<stop offset="0.9710" stop-color="#0095ff"/>
<stop offset="0.9850" stop-color="#00c2ff"/>
</radialGradient>
<radialGradient id="w62" gradientUnits="userSpaceOnUse" cx="0" cy="0" r="10">
<stop offset="0.6580" stop-color="#ff0000"/>
<stop offset="0.7170" stop-color="#ff0000"/>
<stop offset="0.7258" stop-color="#ff6d00"/>
<stop offset="0.7346" stop-color="#fffc00"/>
<stop offset="0.7434" stop-color="#09ff00"/>
<stop offset="0.7523" stop-color="#00fff4"/>
<stop offset="0.7611" stop-color="#0085ff"/>
<stop offset="0.7699" stop-color="#2e14ff"/>
<stop offset="0.8107" stop-color="#2e14ff"/>
<stop offset="0.8384" stop-color="#0084ff"/>
<stop offset="0.9246" stop-color="#0084ff"/>
<stop offset="0.9710" stop-color="#009cff"/>
<stop offset="0.9850" stop-color="#00c9ff"/>
</radialGradient>
<radialGradient id="w63" gradientUnits="userSpaceOnUse" cx="0" cy="0" r="10">
<stop offset="0.6580" stop-color="#ff0000"/>
<stop offset="0.7170" stop-color="#ff0000"/>
<stop offset="0.7260" stop-color="#ff6d00"/>
<stop offset="0.7350" stop-color="#fffb00"/>
<stop offset="0.7441" stop-color="#09ff00"/>
<stop offset="0.7531" stop-color="#00fff3"/>
<stop offset="0.7621" stop-color="#0086ff"/>
<stop offset="0.7711" stop-color="#2e14ff"/>
<stop offset="0.8103" stop-color="#2e14ff"/>
<stop offset="0.8376" stop-color="#0085ff"/>
<stop offset="0.9254" stop-color="#0085ff"/>
<stop offset="0.9710" stop-color="#00a4ff"/>
<stop offset="0.9850" stop-color="#00d1ff"/>
</radialGradient>
<radialGradient id="w64" gradientUnits="userSpaceOnUse" cx="0" cy="0" r="10">
<stop offset="0.6580" stop-color="#ff0000"/>
<stop offset="0.7170" stop-color="#ff0000"/>
<stop offset="0.7262" stop-color="#ff6d00"/>
<stop offset="0.7355" stop-color="#fffb00"/>
<stop offset="0.7447" stop-color="#0aff00"/>
<stop offset="0.7539" stop-color="#00fff2"/>
<stop offset="0.7631" stop-color="#0086ff"/>
<stop offset="0.7724" stop-color="#2e15ff"/>
<stop offset="0.8099" stop-color="#2e15ff"/>
<stop offset="0.8368" stop-color="#0086ff"/>
<stop offset="0.9262" stop-color="#0086ff"/>
<stop offset="0.9710" stop-color="#00abff"/>
<stop offset="0.9850" stop-color="#00d8ff"/>
</radialGradient>
<radialGradient id="w65" gradientUnits="userSpaceOnUse" cx="0" cy="0" r="10">
<stop offset="0.6580" stop-color="#ff0000"/>
<stop offset="0.7170" stop-color="#ff0000"/>
<stop offset="0.7264" stop-color="#ff6d00"/>
<stop offset="0.7358" stop-color="#fffb00"/>
<stop offset="0.7453" stop-color="#0bff00"/>
<stop offset="0.7547" stop-color="#00fff1"/>
<stop offset="0.7641" stop-color="#0087ff"/>
<stop offset="0.7735" stop-color="#2e16ff"/>
<stop offset="0.8095" stop-color="#2e16ff"/>
<stop offset="0.8360" stop-color="#0086ff"/>
<stop offset="0.9270" stop-color="#0086ff"/>
<stop offset="0.9710" stop-color="#00b2ff"/>
<stop offset="0.9850" stop-color="#00e0ff"/>
</radialGradient>
<radialGradient id="w66" gradientUnits="userSpaceOnUse" cx="0" cy="0" r="10">
<stop offset="0.6580" stop-color="#ff0000"/>
<stop offset="0.7170" stop-color="#ff0000"/>
<stop offset="0.7266" stop-color="#ff6d00"/>
<stop offset="0.7362" stop-color="#fffa00"/>
<stop offset="0.7458" stop-color="#0bff00"/>
<stop offset="0.7554" stop-color="#00fff0"/>
<stop offset="0.7650" stop-color="#0087ff"/>
<stop offset="0.7747" stop-color="#2d16ff"/>
<stop offset="0.8091" stop-color="#2d16ff"/>
<stop offset="0.8352" stop-color="#0087ff"/>
<stop offset="0.9278" stop-color="#0087ff"/>
<stop offset="0.9710" stop-color="#00b9ff"/>
<stop offset="0.9850" stop-color="#00e6ff"/>
</radialGradient>
<radialGradient id="w67" gradientUnits="userSpaceOnUse" cx="0" cy="0" r="10">
<stop offset="0.6580" stop-color="#ff0000"/>
<stop offset="0.7170" stop-color="#ff0000"/>
<stop offset="0.7268" stop-color="#ff6d00"/>
<stop offset="0.7366" stop-color="#fffa00"/>
<stop offset="0.7463" stop-color="#0cff00"/>
<stop offset="0.7561" stop-color="#00ffef"/>
<stop offset="0.7659" stop-color="#0088ff"/>
<stop offset="0.7757" stop-color="#2d17ff"/>
<stop offset="0.8088" stop-color="#2d17ff"/>
<stop offset="0.8346" stop-color="#0088ff"/>
<stop offset="0.9284" stop-color="#0088ff"/>
<stop offset="0.9710" stop-color="#00bfff"/>
<stop offset="0.9850" stop-color="#00ecff"/>
</radialGradient>
<radialGradient id="w68" gradientUnits="userSpaceOnUse" cx="0" cy="0" r="10">
<stop offset="0.6580" stop-color="#ff0000"/>
<stop offset="0.7170" stop-color="#ff0000"/>
<stop offset="0.7269" stop-color="#ff6d00"/>
<stop offset="0.7368" stop-color="#fffa00"/>
<stop offset="0.7468" stop-color="#0dff00"/>
<stop offset="0.7567" stop-color="#00ffee"/>
<stop offset="0.7666" stop-color="#0088ff"/>
<stop offset="0.7765" stop-color="#2d17ff"/>
<stop offset="0.8085" stop-color="#2d17ff"/>
<stop offset="0.8340" stop-color="#0088ff"/>
<stop offset="0.9290" stop-color="#0088ff"/>
<stop offset="0.9710" stop-color="#00c4ff"/>
<stop offset="0.9850" stop-color="#00f2ff"/>
</radialGradient>
<radialGradient id="w69" gradientUnits="userSpaceOnUse" cx="0" cy="0" r="10">
<stop offset="0.6580" stop-color="#ff0000"/>
<stop offset="0.7170" stop-color="#ff0000"/>
<stop offset="0.7270" stop-color="#ff6d00"/>
<stop offset="0.7371" stop-color="#fffa00"/>
<stop offset="0.7471" stop-color="#0dff00"/>
<stop offset="0.7571" stop-color="#00ffee"/>
<stop offset="0.7672" stop-color="#0089ff"/>
<stop offset="0.7772" stop-color="#2d18ff"/>
<stop offset="0.8083" stop-color="#2d18ff"/>
<stop offset="0.8335" stop-color="#0089ff"/>
<stop offset="0.9295" stop-color="#0089ff"/>
<stop offset="0.9710" stop-color="#00c8ff"/>
<stop offset="0.9850" stop-color="#00f6ff"/>
</radialGradient>
<radialGradient id="w70" gradientUnits="userSpaceOnUse" cx="0" cy="0" r="10">
<stop offset="0.6580" stop-color="#ff0000"/>
<stop offset="0.7170" stop-color="#ff0000"/>
<stop offset="0.7271" stop-color="#ff6d00"/>
<stop offset="0.7372" stop-color="#fffa00"/>
<stop offset="0.7474" stop-color="#0dff00"/>
<stop offset="0.7575" stop-color="#00ffed"/>
<stop offset="0.7676" stop-color="#0089ff"/>
<stop offset="0.7777" stop-color="#2d18ff"/>
<stop offset="0.8081" stop-color="#2d18ff"/>
<stop offset="0.8332" stop-color="#0089ff"/>
<stop offset="0.9298" stop-color="#0089ff"/>
<stop offset="0.9710" stop-color="#00cbff"/>
<stop offset="0.9850" stop-color="#00f9ff"/>
</radialGradient>
<radialGradient id="w71" gradientUnits="userSpaceOnUse" cx="0" cy="0" r="10">
<stop offset="0.6580" stop-color="#ff0000"/>
<stop offset="0.7170" stop-color="#ff0000"/>
<stop offset="0.7272" stop-color="#ff6d00"/>
<stop offset="0.7373" stop-color="#fffa00"/>
<stop offset="0.7475" stop-color="#0dff00"/>
<stop offset="0.7576" stop-color="#00ffed"/>
<stop offset="0.7678" stop-color="#0089ff"/>
<stop offset="0.7780" stop-color="#2d18ff"/>
<stop offset="0.8080" stop-color="#2d18ff"/>
<stop offset="0.8330" stop-color="#0089ff"/>
<stop offset="0.9300" stop-color="#0089ff"/>
<stop offset="0.9710" stop-color="#00cdff"/>
<stop offset="0.9850" stop-color="#00faff"/>
</radialGradient>
<radialGradient id="w72" gradientUnits="userSpaceOnUse" cx="0" cy="0" r="10">
<stop offset="0.6580" stop-color="#ff0000"/>
<stop offset="0.7170" stop-color="#ff0000"/>
<stop offset="0.7272" stop-color="#ff6d00"/>
<stop offset="0.7373" stop-color="#fffa00"/>
<stop offset="0.7475" stop-color="#0dff00"/>
<stop offset="0.7576" stop-color="#00ffed"/>
<stop offset="0.7678" stop-color="#0089ff"/>
<stop offset="0.7780" stop-color="#2d18ff"/>
<stop offset="0.8080" stop-color="#2d18ff"/>
<stop offset="0.8330" stop-color="#0089ff"/>
<stop offset="0.9300" stop-color="#0089ff"/>
<stop offset="0.9710" stop-color="#00cdff"/>
<stop offset="0.9850" stop-color="#00faff"/>
</radialGradient>
<radialGradient id="w73" gradientUnits="userSpaceOnUse" cx="0" cy="0" r="10">
<stop offset="0.6580" stop-color="#ff0000"/>
<stop offset="0.7170" stop-color="#ff0000"/>
<stop offset="0.7271" stop-color="#ff6d00"/>
<stop offset="0.7372" stop-color="#fffa00"/>
<stop offset="0.7474" stop-color="#0eff00"/>
<stop offset="0.7575" stop-color="#00ffec"/>
<stop offset="0.7676" stop-color="#008aff"/>
<stop offset="0.7777" stop-color="#2c18ff"/>
<stop offset="0.8083" stop-color="#2c18ff"/>
<stop offset="0.8334" stop-color="#0089ff"/>
<stop offset="0.9298" stop-color="#0089ff"/>
<stop offset="0.9710" stop-color="#00cdff"/>
<stop offset="0.9850" stop-color="#00fbff"/>
</radialGradient>
<radialGradient id="w74" gradientUnits="userSpaceOnUse" cx="0" cy="0" r="10">
<stop offset="0.6580" stop-color="#ff0000"/>
<stop offset="0.7170" stop-color="#ff0000"/>
<stop offset="0.7271" stop-color="#ff6c00"/>
<stop offset="0.7371" stop-color="#fff900"/>
<stop offset="0.7472" stop-color="#0fff00"/>
<stop offset="0.7572" stop-color="#00ffeb"/>
<stop offset="0.7673" stop-color="#008aff"/>
<stop offset="0.7773" stop-color="#2c19ff"/>
<stop offset="0.8089" stop-color="#2c19ff"/>
<stop offset="0.8342" stop-color="#0088ff"/>
<stop offset="0.9295" stop-color="#0088ff"/>
<stop offset="0.9710" stop-color="#00ceff"/>
<stop offset="0.9850" stop-color="#00fbff"/>
</radialGradient>
<radialGradient id="w75" gradientUnits="userSpaceOnUse" cx="0" cy="0" r="10">
<stop offset="0.6580" stop-color="#ff0000"/>
<stop offset="0.7170" stop-color="#ff0000"/>
<stop offset="0.7270" stop-color="#ff6c00"/>
<stop offset="0.7369" stop-color="#fff900"/>
<stop offset="0.7469" stop-color="#10ff00"/>
<stop offset="0.7568" stop-color="#00ffea"/>
<stop offset="0.7668" stop-color="#008bff"/>
<stop offset="0.7767" stop-color="#2c1aff"/>
<stop offset="0.8097" stop-color="#2c1aff"/>
<stop offset="0.8352" stop-color="#0087ff"/>
<stop offset="0.9290" stop-color="#0087ff"/>
<stop offset="0.9710" stop-color="#00ceff"/>
<stop offset="0.9850" stop-color="#00fcff"/>
</radialGradient>
<radialGradient id="w76" gradientUnits="userSpaceOnUse" cx="0" cy="0" r="10">
<stop offset="0.6580" stop-color="#ff0000"/>
<stop offset="0.7170" stop-color="#ff0000"/>
<stop offset="0.7268" stop-color="#ff6c00"/>
<stop offset="0.7367" stop-color="#fff800"/>
<stop offset="0.7465" stop-color="#12ff00"/>
<stop offset="0.7563" stop-color="#00ffe8"/>
<stop offset="0.7661" stop-color="#008dff"/>
<stop offset="0.7760" stop-color="#2b1cff"/>
<stop offset="0.8107" stop-color="#2b1cff"/>
<stop offset="0.8364" stop-color="#0086ff"/>
<stop offset="0.9284" stop-color="#0086ff"/>
<stop offset="0.9710" stop-color="#00cfff"/>
<stop offset="0.9850" stop-color="#00fdff"/>
</radialGradient>
<radialGradient id="w77" gradientUnits="userSpaceOnUse" cx="0" cy="0" r="10">
<stop offset="0.6580" stop-color="#ff0000"/>
<stop offset="0.7170" stop-color="#ff0000"/>
<stop offset="0.7267" stop-color="#ff6c00"/>
<stop offset="0.7364" stop-color="#fff700"/>
<stop offset="0.7461" stop-color="#13ff00"/>
<stop offset="0.7557" stop-color="#00ffe5"/>
<stop offset="0.7654" stop-color="#008eff"/>
<stop offset="0.7751" stop-color="#2a1dff"/>
<stop offset="0.8118" stop-color="#2a1dff"/>
<stop offset="0.8379" stop-color="#0085ff"/>
<stop offset="0.9278" stop-color="#0085ff"/>
<stop offset="0.9710" stop-color="#00d0ff"/>
<stop offset="0.9850" stop-color="#00fdff"/>
</radialGradient>
<radialGradient id="w78" gradientUnits="userSpaceOnUse" cx="0" cy="0" r="10">
<stop offset="0.6580" stop-color="#ff0000"/>
<stop offset="0.7170" stop-color="#ff0000"/>
<stop offset="0.7265" stop-color="#ff6b00"/>
<stop offset="0.7360" stop-color="#fff700"/>
<stop offset="0.7456" stop-color="#15ff00"/>
<stop offset="0.7551" stop-color="#00ffe2"/>
<stop offset="0.7646" stop-color="#0090ff"/>
<stop offset="0.7741" stop-color="#2a1fff"/>
<stop offset="0.8130" stop-color="#2a1fff"/>
<stop offset="0.8395" stop-color="#0084ff"/>
<stop offset="0.9270" stop-color="#0084ff"/>
<stop offset="0.9710" stop-color="#00d1ff"/>
<stop offset="0.9850" stop-color="#00ffff"/>
</radialGradient>
<radialGradient id="w79" gradientUnits="userSpaceOnUse" cx="0" cy="0" r="10">
<stop offset="0.6580" stop-color="#ff0000"/>
<stop offset="0.7170" stop-color="#ff0000"/>
<stop offset="0.7264" stop-color="#ff6b00"/>
<stop offset="0.7357" stop-color="#fff600"/>
<stop offset="0.7451" stop-color="#18ff00"/>
<stop offset="0.7544" stop-color="#00ffe0"/>
<stop offset="0.7638" stop-color="#0092ff"/>
<stop offset="0.7731" stop-color="#2921ff"/>
<stop offset="0.8144" stop-color="#2921ff"/>
<stop offset="0.8413" stop-color="#0082ff"/>
<stop offset="0.9262" stop-color="#0082ff"/>
<stop offset="0.9710" stop-color="#00d2ff"/>
<stop offset="0.9850" stop-color="#00fffe"/>
</radialGradient>
<radialGradient id="w80" gradientUnits="userSpaceOnUse" cx="0" cy="0" r="10">
<stop offset="0.6580" stop-color="#ff0000"/>
<stop offset="0.7170" stop-color="#ff0000"/>
<stop offset="0.7262" stop-color="#ff6b00"/>
<stop offset="0.7353" stop-color="#fff500"/>
<stop offset="0.7445" stop-color="#1aff00"/>
<stop offset="0.7537" stop-color="#00ffdd"/>
<stop offset="0.7629" stop-color="#0093ff"/>
<stop offset="0.7720" stop-color="#2823ff"/>
<stop offset="0.8158" stop-color="#2823ff"/>
<stop offset="0.8431" stop-color="#0081ff"/>
<stop offset="0.9254" stop-color="#0081ff"/>
<stop offset="0.9710" stop-color="#00d3ff"/>
<stop offset="0.9850" stop-color="#00fffc"/>
</radialGradient>
<radialGradient id="w81" gradientUnits="userSpaceOnUse" cx="0" cy="0" r="10">
<stop offset="0.6580" stop-color="#ff0000"/>
<stop offset="0.7170" stop-color="#ff0000"/>
<stop offset="0.7260" stop-color="#ff6b00"/>
<stop offset="0.7350" stop-color="#fff400"/>
<stop offset="0.7440" stop-color="#1cff00"/>
<stop offset="0.7530" stop-color="#00ffda"/>
<stop offset="0.7620" stop-color="#0095ff"/>
<stop offset="0.7710" stop-color="#2725ff"/>
<stop offset="0.8172" stop-color="#2725ff"/>
<stop offset="0.8449" stop-color="#007fff"/>
<stop offset="0.9246" stop-color="#007fff"/>
<stop offset="0.9710" stop-color="#00d4ff"/>
<stop offset="0.9850" stop-color="#00fff9"/>
</radialGradient>
<radialGradient id="w82" gradientUnits="userSpaceOnUse" cx="0" cy="0" r="10">
<stop offset="0.6580" stop-color="#ff0000"/>
<stop offset="0.7170" stop-color="#ff0000"/>
<stop offset="0.7258" stop-color="#ff6a00"/>
<stop offset="0.7346" stop-color="#fff300"/>
<stop offset="0.7434" stop-color="#1eff00"/>
<stop offset="0.7523" stop-color="#00ffd7"/>
<stop offset="0.7611" stop-color="#0097ff"/>
<stop offset="0.7699" stop-color="#2627ff"/>
<stop offset="0.8186" stop-color="#2627ff"/>
<stop offset="0.8467" stop-color="#017eff"/>
<stop offset="0.9238" stop-color="#017eff"/>
<stop offset="0.9710" stop-color="#00d6ff"/>
<stop offset="0.9850" stop-color="#00fff7"/>
</radialGradient>
<radialGradient id="w83" gradientUnits="userSpaceOnUse" cx="0" cy="0" r="10">
<stop offset="0.6580" stop-color="#ff0000"/>
<stop offset="0.7170" stop-color="#ff0000"/>
<stop offset="0.7256" stop-color="#ff6a00"/>
<stop offset="0.7343" stop-color="#fff200"/>
<stop offset="0.7429" stop-color="#20ff00"/>
<stop offset="0.7516" stop-color="#00ffd4"/>
<stop offset="0.7602" stop-color="#0099ff"/>
<stop offset="0.7689" stop-color="#2529ff"/>
<stop offset="0.8200" stop-color="#2529ff"/>
<stop offset="0.8485" stop-color="#017dff"/>
<stop offset="0.9230" stop-color="#017dff"/>
<stop offset="0.9710" stop-color="#00d7ff"/>
<stop offset="0.9850" stop-color="#00fff5"/>
</radialGradient>
<radialGradient id="w84" gradientUnits="userSpaceOnUse" cx="0" cy="0" r="10">
<stop offset="0.6580" stop-color="#ff0000"/>
<stop offset="0.7170" stop-color="#ff0000"/>
<stop offset="0.7255" stop-color="#ff6a00"/>
<stop offset="0.7340" stop-color="#fff100"/>
<stop offset="0.7424" stop-color="#22ff00"/>
<stop offset="0.7509" stop-color="#00ffd1"/>
<stop offset="0.7594" stop-color="#009bff"/>
<stop offset="0.7679" stop-color="#252bff"/>
<stop offset="0.8212" stop-color="#252bff"/>
<stop offset="0.8501" stop-color="#027cff"/>
<stop offset="0.9222" stop-color="#027cff"/>
<stop offset="0.9710" stop-color="#00d8ff"/>
<stop offset="0.9850" stop-color="#00fff3"/>
</radialGradient>
<radialGradient id="w85" gradientUnits="userSpaceOnUse" cx="0" cy="0" r="10">
<stop offset="0.6580" stop-color="#ff0000"/>
<stop offset="0.7170" stop-color="#ff0000"/>
<stop offset="0.7253" stop-color="#ff6900"/>
<stop offset="0.7337" stop-color="#fff100"/>
<stop offset="0.7420" stop-color="#24ff00"/>
<stop offset="0.7504" stop-color="#00ffcf"/>
<stop offset="0.7587" stop-color="#009cff"/>
<stop offset="0.7670" stop-color="#242cff"/>
<stop offset="0.8223" stop-color="#242cff"/>
<stop offset="0.8516" stop-color="#027bff"/>
<stop offset="0.9216" stop-color="#027bff"/>
<stop offset="0.9710" stop-color="#00d9ff"/>
<stop offset="0.9850" stop-color="#00fff1"/>
</radialGradient>
<radialGradient id="w86" gradientUnits="userSpaceOnUse" cx="0" cy="0" r="10">
<stop offset="0.6580" stop-color="#ff0000"/>
<stop offset="0.7170" stop-color="#ff0000"/>
<stop offset="0.7252" stop-color="#ff6900"/>
<stop offset="0.7334" stop-color="#fff000"/>
<stop offset="0.7416" stop-color="#26ff00"/>
<stop offset="0.7499" stop-color="#00ffcd"/>
<stop offset="0.7581" stop-color="#009eff"/>
<stop offset="0.7663" stop-color="#232eff"/>
<stop offset="0.8233" stop-color="#232eff"/>
<stop offset="0.8528" stop-color="#037aff"/>
<stop offset="0.9210" stop-color="#037aff"/>
<stop offset="0.9710" stop-color="#00daff"/>
<stop offset="0.9850" stop-color="#00ffef"/>
</radialGradient>
<radialGradient id="w87" gradientUnits="userSpaceOnUse" cx="0" cy="0" r="10">
<stop offset="0.6580" stop-color="#ff0000"/>
<stop offset="0.7170" stop-color="#ff0000"/>
<stop offset="0.7251" stop-color="#ff6900"/>
<stop offset="0.7332" stop-color="#fff000"/>
<stop offset="0.7413" stop-color="#27ff00"/>
<stop offset="0.7495" stop-color="#00ffcb"/>
<stop offset="0.7576" stop-color="#009fff"/>
<stop offset="0.7657" stop-color="#232fff"/>
<stop offset="0.8241" stop-color="#232fff"/>
<stop offset="0.8538" stop-color="#0379ff"/>
<stop offset="0.9205" stop-color="#0379ff"/>
<stop offset="0.9710" stop-color="#00dbff"/>
<stop offset="0.9850" stop-color="#00ffed"/>
</radialGradient>
<radialGradient id="w88" gradientUnits="userSpaceOnUse" cx="0" cy="0" r="10">
<stop offset="0.6580" stop-color="#ff0000"/>
<stop offset="0.7170" stop-color="#ff0000"/>
<stop offset="0.7250" stop-color="#ff6900"/>
<stop offset="0.7331" stop-color="#ffef00"/>
<stop offset="0.7411" stop-color="#28ff00"/>
<stop offset="0.7492" stop-color="#00ffca"/>
<stop offset="0.7572" stop-color="#009fff"/>
<stop offset="0.7653" stop-color="#2230ff"/>
<stop offset="0.8247" stop-color="#2230ff"/>
<stop offset="0.8546" stop-color="#0378ff"/>
<stop offset="0.9202" stop-color="#0378ff"/>
<stop offset="0.9710" stop-color="#00dbff"/>
<stop offset="0.9850" stop-color="#00ffec"/>
</radialGradient>
<radialGradient id="w89" gradientUnits="userSpaceOnUse" cx="0" cy="0" r="10">
<stop offset="0.6580" stop-color="#ff0000"/>
<stop offset="0.7170" stop-color="#ff0000"/>
<stop offset="0.7250" stop-color="#ff6900"/>
<stop offset="0.7330" stop-color="#ffef00"/>
<stop offset="0.7410" stop-color="#28ff00"/>
<stop offset="0.7490" stop-color="#00ffc9"/>
<stop offset="0.7570" stop-color="#00a0ff"/>
<stop offset="0.7650" stop-color="#2230ff"/>
<stop offset="0.8250" stop-color="#2230ff"/>
<stop offset="0.8550" stop-color="#0378ff"/>
<stop offset="0.9200" stop-color="#0378ff"/>
<stop offset="0.9710" stop-color="#00ddff"/>
<stop offset="0.9850" stop-color="#00ffea"/>
</radialGradient>
<radialGradient id="w90" gradientUnits="userSpaceOnUse" cx="0" cy="0" r="10">
<stop offset="0.6580" stop-color="#ff0000"/>
<stop offset="0.7170" stop-color="#ff0000"/>
<stop offset="0.7250" stop-color="#ff6900"/>
<stop offset="0.7330" stop-color="#ffef00"/>
<stop offset="0.7410" stop-color="#28ff00"/>
<stop offset="0.7490" stop-color="#00ffc9"/>
<stop offset="0.7570" stop-color="#00a0ff"/>
<stop offset="0.7650" stop-color="#2230ff"/>
<stop offset="0.8249" stop-color="#2230ff"/>
<stop offset="0.8549" stop-color="#0378ff"/>
<stop offset="0.9198" stop-color="#0378ff"/>
<stop offset="0.9710" stop-color="#00deff"/>
<stop offset="0.9850" stop-color="#00ffe7"/>
</radialGradient>
<radialGradient id="w91" gradientUnits="userSpaceOnUse" cx="0" cy="0" r="10">
<stop offset="0.6580" stop-color="#ff0000"/>
<stop offset="0.7170" stop-color="#ff0000"/>
<stop offset="0.7250" stop-color="#ff6900"/>
<stop offset="0.7330" stop-color="#ffef00"/>
<stop offset="0.7410" stop-color="#29ff00"/>
<stop offset="0.7490" stop-color="#00ffc8"/>
<stop offset="0.7570" stop-color="#00a1ff"/>
<stop offset="0.7650" stop-color="#2231ff"/>
<stop offset="0.8242" stop-color="#2231ff"/>
<stop offset="0.8542" stop-color="#0379ff"/>
<stop offset="0.9182" stop-color="#0379ff"/>
<stop offset="0.9710" stop-color="#00e2ff"/>
<stop offset="0.9850" stop-color="#00ffdf"/>
</radialGradient>
<radialGradient id="w92" gradientUnits="userSpaceOnUse" cx="0" cy="0" r="10">
<stop offset="0.6580" stop-color="#ff0000"/>
<stop offset="0.7170" stop-color="#ff0000"/>
<stop offset="0.7250" stop-color="#ff6800"/>
<stop offset="0.7330" stop-color="#ffee00"/>
<stop offset="0.7410" stop-color="#2bff00"/>
<stop offset="0.7490" stop-color="#00ffc6"/>
<stop offset="0.7570" stop-color="#00a2ff"/>
<stop offset="0.7651" stop-color="#2133ff"/>
<stop offset="0.8230" stop-color="#2133ff"/>
<stop offset="0.8530" stop-color="#027cff"/>
<stop offset="0.9153" stop-color="#027cff"/>
<stop offset="0.9710" stop-color="#00e7ff"/>
<stop offset="0.9850" stop-color="#00ffd4"/>
</radialGradient>
<radialGradient id="w93" gradientUnits="userSpaceOnUse" cx="0" cy="0" r="10">
<stop offset="0.6580" stop-color="#ff0000"/>
<stop offset="0.7170" stop-color="#ff0000"/>
<stop offset="0.7250" stop-color="#ff6800"/>
<stop offset="0.7330" stop-color="#ffed00"/>
<stop offset="0.7410" stop-color="#2eff00"/>
<stop offset="0.7491" stop-color="#00ffc2"/>
<stop offset="0.7571" stop-color="#00a4ff"/>
<stop offset="0.7651" stop-color="#2035ff"/>
<stop offset="0.8211" stop-color="#2035ff"/>
<stop offset="0.8511" stop-color="#007fff"/>
<stop offset="0.9111" stop-color="#007fff"/>
<stop offset="0.9710" stop-color="#00efff"/>
<stop offset="0.9850" stop-color="#00ffc4"/>
</radialGradient>
<radialGradient id="w94" gradientUnits="userSpaceOnUse" cx="0" cy="0" r="10">
<stop offset="0.6580" stop-color="#ff0000"/>
<stop offset="0.7170" stop-color="#ff0000"/>
<stop offset="0.7250" stop-color="#ff6800"/>
<stop offset="0.7331" stop-color="#ffec00"/>
<stop offset="0.7411" stop-color="#31ff00"/>
<stop offset="0.7491" stop-color="#00ffbe"/>
<stop offset="0.7571" stop-color="#00a7ff"/>
<stop offset="0.7652" stop-color="#1f37ff"/>
<stop offset="0.8189" stop-color="#1f37ff"/>
<stop offset="0.8489" stop-color="#0084ff"/>
<stop offset="0.9059" stop-color="#0084ff"/>
<stop offset="0.9710" stop-color="#00f9ff"/>
<stop offset="0.9850" stop-color="#00ffb0"/>
</radialGradient>
<radialGradient id="w95" gradientUnits="userSpaceOnUse" cx="0" cy="0" r="10">
<stop offset="0.6580" stop-color="#ff0000"/>
<stop offset="0.7170" stop-color="#ff0000"/>
<stop offset="0.7250" stop-color="#ff6700"/>
<stop offset="0.7331" stop-color="#ffea00"/>
<stop offset="0.7411" stop-color="#34ff00"/>
<stop offset="0.7491" stop-color="#00ffb9"/>
<stop offset="0.7572" stop-color="#00aaff"/>
<stop offset="0.7652" stop-color="#1e3bff"/>
<stop offset="0.8163" stop-color="#1e3bff"/>
<stop offset="0.8463" stop-color="#0089ff"/>
<stop offset="0.8999" stop-color="#0089ff"/>
<stop offset="0.9710" stop-color="#00fff3"/>
<stop offset="0.9850" stop-color="#00ff9a"/>
</radialGradient>
<radialGradient id="w96" gradientUnits="userSpaceOnUse" cx="0" cy="0" r="10">
<stop offset="0.6580" stop-color="#ff0000"/>
<stop offset="0.7170" stop-color="#ff0000"/>
<stop offset="0.7250" stop-color="#ff6600"/>
<stop offset="0.7331" stop-color="#ffe900"/>
<stop offset="0.7411" stop-color="#38ff00"/>
<stop offset="0.7492" stop-color="#00ffb4"/>
<stop offset="0.7572" stop-color="#00adff"/>
<stop offset="0.7653" stop-color="#1c3eff"/>
<stop offset="0.8134" stop-color="#1c3eff"/>
<stop offset="0.8434" stop-color="#008fff"/>
<stop offset="0.8933" stop-color="#008fff"/>
<stop offset="0.9710" stop-color="#00ffd9"/>
<stop offset="0.9850" stop-color="#00ff80"/>
</radialGradient>
<radialGradient id="w97" gradientUnits="userSpaceOnUse" cx="0" cy="0" r="10">
<stop offset="0.6580" stop-color="#ff0000"/>
<stop offset="0.7170" stop-color="#ff0000"/>
<stop offset="0.7251" stop-color="#ff6600"/>
<stop offset="0.7331" stop-color="#ffe700"/>
<stop offset="0.7412" stop-color="#3cff00"/>
<stop offset="0.7493" stop-color="#00ffae"/>
<stop offset="0.7573" stop-color="#00b1ff"/>
<stop offset="0.7654" stop-color="#1b42ff"/>
<stop offset="0.8103" stop-color="#1b42ff"/>
<stop offset="0.8403" stop-color="#0096ff"/>
<stop offset="0.8861" stop-color="#0096ff"/>
<stop offset="0.9710" stop-color="#00ffbe"/>
<stop offset="0.9850" stop-color="#00ff65"/>
</radialGradient>
<radialGradient id="w98" gradientUnits="userSpaceOnUse" cx="0" cy="0" r="10">
<stop offset="0.6580" stop-color="#ff0000"/>
<stop offset="0.7170" stop-color="#ff0000"/>
<stop offset="0.7251" stop-color="#ff6500"/>
<stop offset="0.7332" stop-color="#ffe500"/>
<stop offset="0.7412" stop-color="#41ff00"/>
<stop offset="0.7493" stop-color="#00ffa9"/>
<stop offset="0.7574" stop-color="#00b5ff"/>
<stop offset="0.7655" stop-color="#1946ff"/>
<stop offset="0.8071" stop-color="#1946ff"/>
<stop offset="0.8371" stop-color="#009cff"/>
<stop offset="0.8787" stop-color="#009cff"/>
<stop offset="0.9710" stop-color="#00ffa2"/>
<stop offset="0.9850" stop-color="#00ff49"/>
</radialGradient>
<radialGradient id="w99" gradientUnits="userSpaceOnUse" cx="0" cy="0" r="10">
<stop offset="0.6580" stop-color="#ff0000"/>
<stop offset="0.7170" stop-color="#ff0000"/>
<stop offset="0.7251" stop-color="#ff6500"/>
<stop offset="0.7332" stop-color="#ffe400"/>
<stop offset="0.7413" stop-color="#45ff00"/>
<stop offset="0.7494" stop-color="#00ffa3"/>
<stop offset="0.7575" stop-color="#00b8ff"/>
<stop offset="0.7655" stop-color="#174aff"/>
<stop offset="0.8039" stop-color="#174aff"/>
<stop offset="0.8339" stop-color="#00a3ff"/>
<stop offset="0.8713" stop-color="#00a3ff"/>
<stop offset="0.9710" stop-color="#00ff87"/>
<stop offset="0.9850" stop-color="#00ff2e"/>
</radialGradient>
<radialGradient id="w100" gradientUnits="userSpaceOnUse" cx="0" cy="0" r="10">
<stop offset="0.6580" stop-color="#ff0000"/>
<stop offset="0.7170" stop-color="#ff0000"/>
<stop offset="0.7251" stop-color="#ff6400"/>
<stop offset="0.7332" stop-color="#ffe200"/>
<stop offset="0.7413" stop-color="#4aff00"/>
<stop offset="0.7494" stop-color="#00ff9d"/>
<stop offset="0.7575" stop-color="#00bcff"/>
<stop offset="0.7656" stop-color="#154eff"/>
<stop offset="0.8007" stop-color="#154eff"/>
<stop offset="0.8307" stop-color="#00aaff"/>
<stop offset="0.8639" stop-color="#00aaff"/>
<stop offset="0.9710" stop-color="#00ff6d"/>
<stop offset="0.9850" stop-color="#00ff14"/>
</radialGradient>
<radialGradient id="w101" gradientUnits="userSpaceOnUse" cx="0" cy="0" r="10">
<stop offset="0.6580" stop-color="#ff0000"/>
<stop offset="0.7170" stop-color="#ff0000"/>
<stop offset="0.7251" stop-color="#ff6300"/>
<stop offset="0.7332" stop-color="#ffe000"/>
<stop offset="0.7414" stop-color="#4eff00"/>
<stop offset="0.7495" stop-color="#00ff97"/>
<stop offset="0.7576" stop-color="#00c0ff"/>
<stop offset="0.7657" stop-color="#1452ff"/>
<stop offset="0.7976" stop-color="#1452ff"/>
<stop offset="0.8276" stop-color="#00b0ff"/>
<stop offset="0.8567" stop-color="#00b0ff"/>
<stop offset="0.9710" stop-color="#00ff57"/>
<stop offset="0.9850" stop-color="#03ff00"/>
</radialGradient>
<radialGradient id="w102" gradientUnits="userSpaceOnUse" cx="0" cy="0" r="10">
<stop offset="0.6580" stop-color="#ff0000"/>
<stop offset="0.7170" stop-color="#ff0000"/>
<stop offset="0.7251" stop-color="#ff6300"/>
<stop offset="0.7333" stop-color="#ffdf00"/>
<stop offset="0.7414" stop-color="#52ff00"/>
<stop offset="0.7495" stop-color="#00ff92"/>
<stop offset="0.7576" stop-color="#00c3ff"/>
<stop offset="0.7658" stop-color="#1255ff"/>
<stop offset="0.7947" stop-color="#1255ff"/>
<stop offset="0.8247" stop-color="#00b6ff"/>
<stop offset="0.8501" stop-color="#00b6ff"/>
<stop offset="0.9710" stop-color="#00ff43"/>
<stop offset="0.9850" stop-color="#04ff00"/>
</radialGradient>
<radialGradient id="w103" gradientUnits="userSpaceOnUse" cx="0" cy="0" r="10">
<stop offset="0.6580" stop-color="#ff0000"/>
<stop offset="0.7170" stop-color="#ff0000"/>
<stop offset="0.7251" stop-color="#ff6200"/>
<stop offset="0.7333" stop-color="#ffdd00"/>
<stop offset="0.7414" stop-color="#56ff00"/>
<stop offset="0.7496" stop-color="#00ff8d"/>
<stop offset="0.7577" stop-color="#00c6ff"/>
<stop offset="0.7658" stop-color="#1158ff"/>
<stop offset="0.7921" stop-color="#1158ff"/>
<stop offset="0.8221" stop-color="#00bcff"/>
<stop offset="0.8441" stop-color="#00bcff"/>
<stop offset="0.9710" stop-color="#00ff33"/>
<stop offset="0.9850" stop-color="#04ff00"/>
</radialGradient>
<radialGradient id="w104" gradientUnits="userSpaceOnUse" cx="0" cy="0" r="10">
<stop offset="0.6580" stop-color="#ff0000"/>
<stop offset="0.7170" stop-color="#ff0000"/>
<stop offset="0.7252" stop-color="#ff6200"/>
<stop offset="0.7333" stop-color="#ffdc00"/>
<stop offset="0.7415" stop-color="#59ff00"/>
<stop offset="0.7496" stop-color="#00ff89"/>
<stop offset="0.7578" stop-color="#00c9ff"/>
<stop offset="0.7659" stop-color="#105bff"/>
<stop offset="0.7899" stop-color="#105bff"/>
<stop offset="0.8199" stop-color="#00c1ff"/>
<stop offset="0.8389" stop-color="#00c1ff"/>
<stop offset="0.9710" stop-color="#00ff27"/>
<stop offset="0.9850" stop-color="#04ff00"/>
</radialGradient>
<radialGradient id="w105" gradientUnits="userSpaceOnUse" cx="0" cy="0" r="10">
<stop offset="0.6580" stop-color="#ff0000"/>
<stop offset="0.7170" stop-color="#ff0000"/>
<stop offset="0.7252" stop-color="#ff6100"/>
<stop offset="0.7333" stop-color="#ffdb00"/>
<stop offset="0.7415" stop-color="#5bff00"/>
<stop offset="0.7496" stop-color="#00ff85"/>
<stop offset="0.7578" stop-color="#00cbff"/>
<stop offset="0.7659" stop-color="#0f5dff"/>
<stop offset="0.7880" stop-color="#0f5dff"/>
<stop offset="0.8180" stop-color="#00c4ff"/>
<stop offset="0.8347" stop-color="#00c4ff"/>
<stop offset="0.9710" stop-color="#00ff1e"/>
<stop offset="0.9850" stop-color="#04ff00"/>
</radialGradient>
<radialGradient id="w106" gradientUnits="userSpaceOnUse" cx="0" cy="0" r="10">
<stop offset="0.6580" stop-color="#ff0000"/>
<stop offset="0.7170" stop-color="#ff0000"/>
<stop offset="0.7252" stop-color="#ff6100"/>
<stop offset="0.7333" stop-color="#ffda00"/>
<stop offset="0.7415" stop-color="#5dff00"/>
<stop offset="0.7497" stop-color="#00ff83"/>
<stop offset="0.7578" stop-color="#00ccff"/>
<stop offset="0.7660" stop-color="#0e5fff"/>
<stop offset="0.7868" stop-color="#0e5fff"/>
<stop offset="0.8168" stop-color="#00c7ff"/>
<stop offset="0.8318" stop-color="#00c7ff"/>
<stop offset="0.9710" stop-color="#00ff19"/>
<stop offset="0.9850" stop-color="#04ff00"/>
</radialGradient>
<radialGradient id="w107" gradientUnits="userSpaceOnUse" cx="0" cy="0" r="10">
<stop offset="0.6580" stop-color="#ff0000"/>
<stop offset="0.7170" stop-color="#ff0000"/>
<stop offset="0.7252" stop-color="#ff6100"/>
<stop offset="0.7333" stop-color="#ffda00"/>
<stop offset="0.7415" stop-color="#5eff00"/>
<stop offset="0.7497" stop-color="#00ff82"/>
<stop offset="0.7578" stop-color="#00cdff"/>
<stop offset="0.7660" stop-color="#0e60ff"/>
<stop offset="0.7861" stop-color="#0e60ff"/>
<stop offset="0.8161" stop-color="#00c8ff"/>
<stop offset="0.8302" stop-color="#00c8ff"/>
<stop offset="0.9710" stop-color="#00ff17"/>
<stop offset="0.9850" stop-color="#04ff00"/>
</radialGradient>
<radialGradient id="w108" gradientUnits="userSpaceOnUse" cx="0" cy="0" r="10">
<stop offset="0.6580" stop-color="#ff0000"/>
<stop offset="0.7170" stop-color="#ff0000"/>
<stop offset="0.7252" stop-color="#ff6100"/>
<stop offset="0.7333" stop-color="#ffda00"/>
<stop offset="0.7415" stop-color="#5eff00"/>
<stop offset="0.7497" stop-color="#00ff82"/>
<stop offset="0.7578" stop-color="#00cdff"/>
<stop offset="0.7660" stop-color="#0e60ff"/>
<stop offset="0.7860" stop-color="#0e60ff"/>
<stop offset="0.8160" stop-color="#00c8ff"/>
<stop offset="0.8302" stop-color="#00c8ff"/>
<stop offset="0.9710" stop-color="#00ff17"/>
<stop offset="0.9850" stop-color="#04ff00"/>
</radialGradient>
<radialGradient id="w109" gradientUnits="userSpaceOnUse" cx="0" cy="0" r="10">
<stop offset="0.6580" stop-color="#ff0000"/>
<stop offset="0.7170" stop-color="#ff0000"/>
<stop offset="0.7251" stop-color="#ff6100"/>
<stop offset="0.7333" stop-color="#ffda00"/>
<stop offset="0.7414" stop-color="#5dff00"/>
<stop offset="0.7496" stop-color="#00ff83"/>
<stop offset="0.7577" stop-color="#00ccff"/>
<stop offset="0.7658" stop-color="#0e5fff"/>
<stop offset="0.7863" stop-color="#0e5fff"/>
<stop offset="0.8163" stop-color="#00c7ff"/>
<stop offset="0.8318" stop-color="#00c7ff"/>
<stop offset="0.9710" stop-color="#00ff19"/>
<stop offset="0.9850" stop-color="#04ff00"/>
</radialGradient>
<radialGradient id="w110" gradientUnits="userSpaceOnUse" cx="0" cy="0" r="10">
<stop offset="0.6580" stop-color="#ff0000"/>
<stop offset="0.7170" stop-color="#ff0000"/>
<stop offset="0.7251" stop-color="#ff6100"/>
<stop offset="0.7332" stop-color="#ffdb00"/>
<stop offset="0.7413" stop-color="#5bff00"/>
<stop offset="0.7494" stop-color="#00ff85"/>
<stop offset="0.7575" stop-color="#00cbff"/>
<stop offset="0.7656" stop-color="#0f5dff"/>
<stop offset="0.7869" stop-color="#0f5dff"/>
<stop offset="0.8169" stop-color="#00c5ff"/>
<stop offset="0.8347" stop-color="#00c5ff"/>
<stop offset="0.9710" stop-color="#00ff1f"/>
<stop offset="0.9850" stop-color="#04ff00"/>
</radialGradient>
<radialGradient id="w111" gradientUnits="userSpaceOnUse" cx="0" cy="0" r="10">
<stop offset="0.6580" stop-color="#ff0000"/>
<stop offset="0.7170" stop-color="#ff0000"/>
<stop offset="0.7250" stop-color="#ff6200"/>
<stop offset="0.7331" stop-color="#ffdc00"/>
<stop offset="0.7411" stop-color="#59ff00"/>
<stop offset="0.7491" stop-color="#00ff89"/>
<stop offset="0.7572" stop-color="#00c9ff"/>
<stop offset="0.7652" stop-color="#105bff"/>
<stop offset="0.7877" stop-color="#105bff"/>
<stop offset="0.8177" stop-color="#00c2ff"/>
<stop offset="0.8389" stop-color="#00c2ff"/>
<stop offset="0.9710" stop-color="#00ff28"/>
<stop offset="0.9850" stop-color="#04ff00"/>
</radialGradient>
<radialGradient id="w112" gradientUnits="userSpaceOnUse" cx="0" cy="0" r="10">
<stop offset="0.6580" stop-color="#ff0000"/>
<stop offset="0.7170" stop-color="#ff0000"/>
<stop offset="0.7250" stop-color="#ff6200"/>
<stop offset="0.7329" stop-color="#ffdd00"/>
<stop offset="0.7409" stop-color="#56ff00"/>
<stop offset="0.7488" stop-color="#00ff8d"/>
<stop offset="0.7568" stop-color="#00c6ff"/>
<stop offset="0.7648" stop-color="#1158ff"/>
<stop offset="0.7887" stop-color="#1158ff"/>
<stop offset="0.8187" stop-color="#00bfff"/>
<stop offset="0.8441" stop-color="#00bfff"/>
<stop offset="0.9710" stop-color="#00ff35"/>
<stop offset="0.9850" stop-color="#04ff00"/>
</radialGradient>
<radialGradient id="w113" gradientUnits="userSpaceOnUse" cx="0" cy="0" r="10">
<stop offset="0.6580" stop-color="#ff0000"/>
<stop offset="0.7170" stop-color="#ff0000"/>
<stop offset="0.7249" stop-color="#ff6300"/>
<stop offset="0.7327" stop-color="#ffdf00"/>
<stop offset="0.7406" stop-color="#52ff00"/>
<stop offset="0.7485" stop-color="#00ff92"/>
<stop offset="0.7563" stop-color="#00c3ff"/>
<stop offset="0.7642" stop-color="#1255ff"/>
<stop offset="0.7898" stop-color="#1255ff"/>
<stop offset="0.8198" stop-color="#00baff"/>
<stop offset="0.8501" stop-color="#00baff"/>
<stop offset="0.9710" stop-color="#00ff48"/>
<stop offset="0.9850" stop-color="#04ff00"/>
</radialGradient>
<radialGradient id="w114" gradientUnits="userSpaceOnUse" cx="0" cy="0" r="10">
<stop offset="0.6580" stop-color="#ff0000"/>
<stop offset="0.7170" stop-color="#ff0000"/>
<stop offset="0.7248" stop-color="#ff6300"/>
<stop offset="0.7325" stop-color="#ffe000"/>
<stop offset="0.7403" stop-color="#4eff00"/>
<stop offset="0.7481" stop-color="#00ff97"/>
<stop offset="0.7559" stop-color="#00c0ff"/>
<stop offset="0.7636" stop-color="#1452ff"/>
<stop offset="0.7910" stop-color="#1452ff"/>
<stop offset="0.8210" stop-color="#00b6ff"/>
<stop offset="0.8567" stop-color="#00b6ff"/>
<stop offset="0.9710" stop-color="#00ff5f"/>
<stop offset="0.9850" stop-color="#00ff05"/>
</radialGradient>
<radialGradient id="w115" gradientUnits="userSpaceOnUse" cx="0" cy="0" r="10">
<stop offset="0.6580" stop-color="#ff0000"/>
<stop offset="0.7170" stop-color="#ff0000"/>
<stop offset="0.7247" stop-color="#ff6400"/>
<stop offset="0.7323" stop-color="#ffe200"/>
<stop offset="0.7400" stop-color="#4aff00"/>
<stop offset="0.7477" stop-color="#00ff9d"/>
<stop offset="0.7553" stop-color="#00bcff"/>
<stop offset="0.7630" stop-color="#154eff"/>
<stop offset="0.7924" stop-color="#154eff"/>
<stop offset="0.8224" stop-color="#00b1ff"/>
<stop offset="0.8639" stop-color="#00b1ff"/>
<stop offset="0.9710" stop-color="#00ff7a"/>
<stop offset="0.9850" stop-color="#00ff21"/>
</radialGradient>
<radialGradient id="w116" gradientUnits="userSpaceOnUse" cx="0" cy="0" r="10">
<stop offset="0.6580" stop-color="#ff0000"/>
<stop offset="0.7170" stop-color="#ff0000"/>
<stop offset="0.7246" stop-color="#ff6500"/>
<stop offset="0.7321" stop-color="#ffe400"/>
<stop offset="0.7397" stop-color="#45ff00"/>
<stop offset="0.7472" stop-color="#00ffa3"/>
<stop offset="0.7548" stop-color="#00b8ff"/>
<stop offset="0.7623" stop-color="#174aff"/>
<stop offset="0.7938" stop-color="#174aff"/>
<stop offset="0.8238" stop-color="#00abff"/>
<stop offset="0.8713" stop-color="#00abff"/>
<stop offset="0.9710" stop-color="#00ff9a"/>
<stop offset="0.9850" stop-color="#00ff40"/>
</radialGradient>
<radialGradient id="w117" gradientUnits="userSpaceOnUse" cx="0" cy="0" r="10">
<stop offset="0.6580" stop-color="#ff0000"/>
<stop offset="0.7170" stop-color="#ff0000"/>
<stop offset="0.7244" stop-color="#ff6500"/>
<stop offset="0.7319" stop-color="#ffe500"/>
<stop offset="0.7393" stop-color="#41ff00"/>
<stop offset="0.7468" stop-color="#00ffa9"/>
<stop offset="0.7542" stop-color="#00b5ff"/>
<stop offset="0.7617" stop-color="#1946ff"/>
<stop offset="0.7952" stop-color="#1946ff"/>
<stop offset="0.8252" stop-color="#00a6ff"/>
<stop offset="0.8787" stop-color="#00a6ff"/>
<stop offset="0.9710" stop-color="#00ffbc"/>
<stop offset="0.9850" stop-color="#00ff62"/>
</radialGradient>
<radialGradient id="w118" gradientUnits="userSpaceOnUse" cx="0" cy="0" r="10">
<stop offset="0.6580" stop-color="#ff0000"/>
<stop offset="0.7170" stop-color="#ff0000"/>
<stop offset="0.7243" stop-color="#ff6600"/>
<stop offset="0.7317" stop-color="#ffe700"/>
<stop offset="0.7390" stop-color="#3cff00"/>
<stop offset="0.7463" stop-color="#00ffae"/>
<stop offset="0.7537" stop-color="#00b1ff"/>
<stop offset="0.7610" stop-color="#1b42ff"/>
<stop offset="0.7966" stop-color="#1b42ff"/>
<stop offset="0.8266" stop-color="#00a1ff"/>
<stop offset="0.8861" stop-color="#00a1ff"/>
<stop offset="0.9710" stop-color="#00ffdf"/>
<stop offset="0.9850" stop-color="#00ff85"/>
</radialGradient>
<radialGradient id="w119" gradientUnits="userSpaceOnUse" cx="0" cy="0" r="10">
<stop offset="0.6580" stop-color="#ff0000"/>
<stop offset="0.7170" stop-color="#ff0000"/>
<stop offset="0.7242" stop-color="#ff6600"/>
<stop offset="0.7315" stop-color="#ffe900"/>
<stop offset="0.7387" stop-color="#38ff00"/>
<stop offset="0.7459" stop-color="#00ffb4"/>
<stop offset="0.7531" stop-color="#00adff"/>
<stop offset="0.7604" stop-color="#1c3eff"/>
<stop offset="0.7980" stop-color="#1c3eff"/>
<stop offset="0.8280" stop-color="#009cff"/>
<stop offset="0.8933" stop-color="#009cff"/>
<stop offset="0.9710" stop-color="#00feff"/>
<stop offset="0.9850" stop-color="#00ffa8"/>
</radialGradient>
<radialGradient id="w120" gradientUnits="userSpaceOnUse" cx="0" cy="0" r="10">
<stop offset="0.6580" stop-color="#ff0000"/>
<stop offset="0.7170" stop-color="#ff0000"/>
<stop offset="0.7241" stop-color="#ff6700"/>
<stop offset="0.7313" stop-color="#ffea00"/>
<stop offset="0.7384" stop-color="#34ff00"/>
<stop offset="0.7455" stop-color="#00ffb9"/>
<stop offset="0.7527" stop-color="#00aaff"/>
<stop offset="0.7598" stop-color="#1e3bff"/>
<stop offset="0.7992" stop-color="#1e3bff"/>
<stop offset="0.8292" stop-color="#0097ff"/>
<stop offset="0.8999" stop-color="#0097ff"/>
<stop offset="0.9710" stop-color="#00edff"/>
<stop offset="0.9850" stop-color="#00ffc9"/>
</radialGradient>
<radialGradient id="w121" gradientUnits="userSpaceOnUse" cx="0" cy="0" r="10">
<stop offset="0.6580" stop-color="#ff0000"/>
<stop offset="0.7170" stop-color="#ff0000"/>
<stop offset="0.7240" stop-color="#ff6800"/>
<stop offset="0.7311" stop-color="#ffec00"/>
<stop offset="0.7381" stop-color="#31ff00"/>
<stop offset="0.7452" stop-color="#00ffbe"/>
<stop offset="0.7522" stop-color="#00a7ff"/>
<stop offset="0.7592" stop-color="#1f37ff"/>
<stop offset="0.8003" stop-color="#1f37ff"/>
<stop offset="0.8303" stop-color="#0093ff"/>
<stop offset="0.9059" stop-color="#0093ff"/>
<stop offset="0.9710" stop-color="#00deff"/>
<stop offset="0.9850" stop-color="#00ffe6"/>
</radialGradient>
<radialGradient id="w122" gradientUnits="userSpaceOnUse" cx="0" cy="0" r="10">
<stop offset="0.6580" stop-color="#ff0000"/>
<stop offset="0.7170" stop-color="#ff0000"/>
<stop offset="0.7240" stop-color="#ff6800"/>
<stop offset="0.7309" stop-color="#ffed00"/>
<stop offset="0.7379" stop-color="#2eff00"/>
<stop offset="0.7449" stop-color="#00ffc2"/>
<stop offset="0.7518" stop-color="#00a4ff"/>
<stop offset="0.7588" stop-color="#2035ff"/>
<stop offset="0.8013" stop-color="#2035ff"/>
<stop offset="0.8313" stop-color="#008fff"/>
<stop offset="0.9111" stop-color="#008fff"/>
<stop offset="0.9710" stop-color="#00d1ff"/>
<stop offset="0.9850" stop-color="#00ffff"/>
</radialGradient>
<radialGradient id="w123" gradientUnits="userSpaceOnUse" cx="0" cy="0" r="10">
<stop offset="0.6580" stop-color="#ff0000"/>
<stop offset="0.7170" stop-color="#ff0000"/>
<stop offset="0.7239" stop-color="#ff6800"/>
<stop offset="0.7308" stop-color="#ffee00"/>
<stop offset="0.7377" stop-color="#2bff00"/>
<stop offset="0.7446" stop-color="#00ffc6"/>
<stop offset="0.7515" stop-color="#00a2ff"/>
<stop offset="0.7584" stop-color="#2133ff"/>
<stop offset="0.8021" stop-color="#2133ff"/>
<stop offset="0.8321" stop-color="#008cff"/>
<stop offset="0.9153" stop-color="#008cff"/>
<stop offset="0.9710" stop-color="#00c7ff"/>
<stop offset="0.9850" stop-color="#00f4ff"/>
</radialGradient>
<radialGradient id="w124" gradientUnits="userSpaceOnUse" cx="0" cy="0" r="10">
<stop offset="0.6580" stop-color="#ff0000"/>
<stop offset="0.7170" stop-color="#ff0000"/>
<stop offset="0.7239" stop-color="#ff6900"/>
<stop offset="0.7307" stop-color="#ffef00"/>
<stop offset="0.7376" stop-color="#29ff00"/>
<stop offset="0.7444" stop-color="#00ffc8"/>
<stop offset="0.7513" stop-color="#00a1ff"/>
<stop offset="0.7582" stop-color="#2231ff"/>
<stop offset="0.8027" stop-color="#2231ff"/>
<stop offset="0.8327" stop-color="#008aff"/>
<stop offset="0.9182" stop-color="#008aff"/>
<stop offset="0.9710" stop-color="#00bfff"/>
<stop offset="0.9850" stop-color="#00edff"/>
</radialGradient>
<radialGradient id="w125" gradientUnits="userSpaceOnUse" cx="0" cy="0" r="10">
<stop offset="0.6580" stop-color="#ff0000"/>
<stop offset="0.7170" stop-color="#ff0000"/>
<stop offset="0.7238" stop-color="#ff6900"/>
<stop offset="0.7307" stop-color="#ffef00"/>
<stop offset="0.7375" stop-color="#28ff00"/>
<stop offset="0.7443" stop-color="#00ffc9"/>
<stop offset="0.7512" stop-color="#00a0ff"/>
<stop offset="0.7580" stop-color="#2230ff"/>
<stop offset="0.8030" stop-color="#2230ff"/>
<stop offset="0.8330" stop-color="#0089ff"/>
<stop offset="0.9198" stop-color="#0089ff"/>
<stop offset="0.9710" stop-color="#00bbff"/>
<stop offset="0.9850" stop-color="#00e8ff"/>
</radialGradient>
<radialGradient id="w126" gradientUnits="userSpaceOnUse" cx="0" cy="0" r="10">
<stop offset="0.6580" stop-color="#ff0000"/>
<stop offset="0.7170" stop-color="#ff0000"/>
<stop offset="0.7238" stop-color="#ff6900"/>
<stop offset="0.7307" stop-color="#ffef00"/>
<stop offset="0.7375" stop-color="#28ff00"/>
<stop offset="0.7443" stop-color="#00ffc9"/>
<stop offset="0.7512" stop-color="#00a0ff"/>
<stop offset="0.7580" stop-color="#2230ff"/>
<stop offset="0.8030" stop-color="#2230ff"/>
<stop offset="0.8329" stop-color="#0089ff"/>
<stop offset="0.9200" stop-color="#0089ff"/>
<stop offset="0.9710" stop-color="#00b9ff"/>
<stop offset="0.9850" stop-color="#00e6ff"/>
</radialGradient>
<radialGradient id="w127" gradientUnits="userSpaceOnUse" cx="0" cy="0" r="10">
<stop offset="0.6580" stop-color="#ff0000"/>
<stop offset="0.7170" stop-color="#ff0000"/>
<stop offset="0.7238" stop-color="#ff6900"/>
<stop offset="0.7307" stop-color="#ffef00"/>
<stop offset="0.7375" stop-color="#28ff00"/>
<stop offset="0.7443" stop-color="#00ffca"/>
<stop offset="0.7512" stop-color="#009fff"/>
<stop offset="0.7580" stop-color="#2230ff"/>
<stop offset="0.8026" stop-color="#2230ff"/>
<stop offset="0.8325" stop-color="#0089ff"/>
<stop offset="0.9202" stop-color="#0089ff"/>
<stop offset="0.9710" stop-color="#00b7ff"/>
<stop offset="0.9850" stop-color="#00e5ff"/>
</radialGradient>
<radialGradient id="w128" gradientUnits="userSpaceOnUse" cx="0" cy="0" r="10">
<stop offset="0.6580" stop-color="#ff0000"/>
<stop offset="0.7170" stop-color="#ff0000"/>
<stop offset="0.7238" stop-color="#ff6900"/>
<stop offset="0.7307" stop-color="#ffef00"/>
<stop offset="0.7375" stop-color="#27ff00"/>
<stop offset="0.7443" stop-color="#00ffcb"/>
<stop offset="0.7512" stop-color="#009fff"/>
<stop offset="0.7580" stop-color="#232fff"/>
<stop offset="0.8019" stop-color="#232fff"/>
<stop offset="0.8317" stop-color="#008aff"/>
<stop offset="0.9205" stop-color="#008aff"/>
<stop offset="0.9710" stop-color="#00b6ff"/>
<stop offset="0.9850" stop-color="#00e3ff"/>
</radialGradient>
<radialGradient id="w129" gradientUnits="userSpaceOnUse" cx="0" cy="0" r="10">
<stop offset="0.6580" stop-color="#ff0000"/>
<stop offset="0.7170" stop-color="#ff0000"/>
<stop offset="0.7238" stop-color="#ff6900"/>
<stop offset="0.7307" stop-color="#fff000"/>
<stop offset="0.7375" stop-color="#26ff00"/>
<stop offset="0.7443" stop-color="#00ffcc"/>
<stop offset="0.7512" stop-color="#009eff"/>
<stop offset="0.7580" stop-color="#232eff"/>
<stop offset="0.8010" stop-color="#232eff"/>
<stop offset="0.8305" stop-color="#008bff"/>
<stop offset="0.9210" stop-color="#008bff"/>
<stop offset="0.9710" stop-color="#00b4ff"/>
<stop offset="0.9850" stop-color="#00e1ff"/>
</radialGradient>
<radialGradient id="w130" gradientUnits="userSpaceOnUse" cx="0" cy="0" r="10">
<stop offset="0.6580" stop-color="#ff0000"/>
<stop offset="0.7170" stop-color="#ff0000"/>
<stop offset="0.7238" stop-color="#ff6900"/>
<stop offset="0.7307" stop-color="#fff000"/>
<stop offset="0.7375" stop-color="#25ff00"/>
<stop offset="0.7443" stop-color="#00ffcd"/>
<stop offset="0.7512" stop-color="#009dff"/>
<stop offset="0.7580" stop-color="#232eff"/>
<stop offset="0.7999" stop-color="#232eff"/>
<stop offset="0.8291" stop-color="#008cff"/>
<stop offset="0.9216" stop-color="#008cff"/>
<stop offset="0.9710" stop-color="#00b2ff"/>
<stop offset="0.9850" stop-color="#00e0ff"/>
</radialGradient>
<radialGradient id="w131" gradientUnits="userSpaceOnUse" cx="0" cy="0" r="10">
<stop offset="0.6580" stop-color="#ff0000"/>
<stop offset="0.7170" stop-color="#ff0000"/>
<stop offset="0.7238" stop-color="#ff6900"/>
<stop offset="0.7307" stop-color="#fff100"/>
<stop offset="0.7375" stop-color="#24ff00"/>
<stop offset="0.7443" stop-color="#00ffcf"/>
<stop offset="0.7512" stop-color="#009cff"/>
<stop offset="0.7580" stop-color="#242cff"/>
<stop offset="0.7985" stop-color="#242cff"/>
<stop offset="0.8274" stop-color="#008dff"/>
<stop offset="0.9222" stop-color="#008dff"/>
<stop offset="0.9710" stop-color="#00b0ff"/>
<stop offset="0.9850" stop-color="#00deff"/>
</radialGradient>
<radialGradient id="w132" gradientUnits="userSpaceOnUse" cx="0" cy="0" r="10">
<stop offset="0.6580" stop-color="#ff0000"/>
<stop offset="0.7170" stop-color="#ff0000"/>
<stop offset="0.7238" stop-color="#ff6900"/>
<stop offset="0.7307" stop-color="#fff100"/>
<stop offset="0.7375" stop-color="#23ff00"/>
<stop offset="0.7443" stop-color="#00ffd0"/>
<stop offset="0.7512" stop-color="#009bff"/>
<stop offset="0.7580" stop-color="#242bff"/>
<stop offset="0.7971" stop-color="#242bff"/>
<stop offset="0.8256" stop-color="#008eff"/>
<stop offset="0.9230" stop-color="#008eff"/>
<stop offset="0.9710" stop-color="#00aeff"/>
<stop offset="0.9850" stop-color="#00dcff"/>
</radialGradient>
<radialGradient id="w133" gradientUnits="userSpaceOnUse" cx="0" cy="0" r="10">
<stop offset="0.6580" stop-color="#ff0000"/>
<stop offset="0.7170" stop-color="#ff0000"/>
<stop offset="0.7238" stop-color="#ff6a00"/>
<stop offset="0.7307" stop-color="#fff200"/>
<stop offset="0.7375" stop-color="#22ff00"/>
<stop offset="0.7443" stop-color="#00ffd2"/>
<stop offset="0.7512" stop-color="#009aff"/>
<stop offset="0.7580" stop-color="#252aff"/>
<stop offset="0.7955" stop-color="#252aff"/>
<stop offset="0.8236" stop-color="#0090ff"/>
<stop offset="0.9238" stop-color="#0090ff"/>
<stop offset="0.9710" stop-color="#00acff"/>
<stop offset="0.9850" stop-color="#00daff"/>
</radialGradient>
<radialGradient id="w134" gradientUnits="userSpaceOnUse" cx="0" cy="0" r="10">
<stop offset="0.6580" stop-color="#ff0000"/>
<stop offset="0.7170" stop-color="#ff0000"/>
<stop offset="0.7238" stop-color="#ff6a00"/>
<stop offset="0.7307" stop-color="#fff200"/>
<stop offset="0.7375" stop-color="#20ff00"/>
<stop offset="0.7443" stop-color="#00ffd4"/>
<stop offset="0.7512" stop-color="#0099ff"/>
<stop offset="0.7580" stop-color="#2529ff"/>
<stop offset="0.7938" stop-color="#2529ff"/>
<stop offset="0.8215" stop-color="#0091ff"/>
<stop offset="0.9246" stop-color="#0091ff"/>
<stop offset="0.9710" stop-color="#00aaff"/>
<stop offset="0.9850" stop-color="#00d7ff"/>
</radialGradient>
<radialGradient id="w135" gradientUnits="userSpaceOnUse" cx="0" cy="0" r="10">
<stop offset="0.6580" stop-color="#ff0000"/>
<stop offset="0.7170" stop-color="#ff0000"/>
<stop offset="0.7238" stop-color="#ff6a00"/>
<stop offset="0.7307" stop-color="#fff300"/>
<stop offset="0.7375" stop-color="#1fff00"/>
<stop offset="0.7443" stop-color="#00ffd6"/>
<stop offset="0.7512" stop-color="#0098ff"/>
<stop offset="0.7580" stop-color="#2627ff"/>
<stop offset="0.7922" stop-color="#2627ff"/>
<stop offset="0.8195" stop-color="#0093ff"/>
<stop offset="0.9254" stop-color="#0093ff"/>
<stop offset="0.9710" stop-color="#00a8ff"/>
<stop offset="0.9850" stop-color="#00d5ff"/>
</radialGradient>
<radialGradient id="w136" gradientUnits="userSpaceOnUse" cx="0" cy="0" r="10">
<stop offset="0.6580" stop-color="#ff0000"/>
<stop offset="0.7170" stop-color="#ff0000"/>
<stop offset="0.7238" stop-color="#ff6a00"/>
<stop offset="0.7307" stop-color="#fff400"/>
<stop offset="0.7375" stop-color="#1dff00"/>
<stop offset="0.7443" stop-color="#00ffd8"/>
<stop offset="0.7512" stop-color="#0096ff"/>
<stop offset="0.7580" stop-color="#2726ff"/>
<stop offset="0.7905" stop-color="#2726ff"/>
<stop offset="0.8174" stop-color="#0094ff"/>
<stop offset="0.9262" stop-color="#0094ff"/>
<stop offset="0.9710" stop-color="#00a5ff"/>
<stop offset="0.9850" stop-color="#00d3ff"/>
</radialGradient>
<radialGradient id="w137" gradientUnits="userSpaceOnUse" cx="0" cy="0" r="10">
<stop offset="0.6580" stop-color="#ff0000"/>
<stop offset="0.7170" stop-color="#ff0000"/>
<stop offset="0.7238" stop-color="#ff6b00"/>
<stop offset="0.7307" stop-color="#fff400"/>
<stop offset="0.7375" stop-color="#1cff00"/>
<stop offset="0.7443" stop-color="#00ffda"/>
<stop offset="0.7512" stop-color="#0095ff"/>
<stop offset="0.7580" stop-color="#2725ff"/>
<stop offset="0.7889" stop-color="#2725ff"/>
<stop offset="0.8154" stop-color="#0096ff"/>
<stop offset="0.9270" stop-color="#0096ff"/>
<stop offset="0.9710" stop-color="#00a3ff"/>
<stop offset="0.9850" stop-color="#00d1ff"/>
</radialGradient>
<radialGradient id="w138" gradientUnits="userSpaceOnUse" cx="0" cy="0" r="10">
<stop offset="0.6580" stop-color="#ff0000"/>
<stop offset="0.7170" stop-color="#ff0000"/>
<stop offset="0.7238" stop-color="#ff6b00"/>
<stop offset="0.7307" stop-color="#fff500"/>
<stop offset="0.7375" stop-color="#1aff00"/>
<stop offset="0.7443" stop-color="#00ffdc"/>
<stop offset="0.7512" stop-color="#0094ff"/>
<stop offset="0.7580" stop-color="#2824ff"/>
<stop offset="0.7875" stop-color="#2824ff"/>
<stop offset="0.8136" stop-color="#0097ff"/>
<stop offset="0.9278" stop-color="#0097ff"/>
<stop offset="0.9710" stop-color="#00a1ff"/>
<stop offset="0.9850" stop-color="#00cfff"/>
</radialGradient>
<radialGradient id="w139" gradientUnits="userSpaceOnUse" cx="0" cy="0" r="10">
<stop offset="0.6580" stop-color="#ff0000"/>
<stop offset="0.7170" stop-color="#ff0000"/>
<stop offset="0.7238" stop-color="#ff6b00"/>
<stop offset="0.7307" stop-color="#fff500"/>
<stop offset="0.7375" stop-color="#19ff00"/>
<stop offset="0.7443" stop-color="#00ffdd"/>
<stop offset="0.7512" stop-color="#0093ff"/>
<stop offset="0.7580" stop-color="#2822ff"/>
<stop offset="0.7861" stop-color="#2822ff"/>
<stop offset="0.8119" stop-color="#0098ff"/>
<stop offset="0.9284" stop-color="#0098ff"/>
<stop offset="0.9710" stop-color="#009fff"/>
<stop offset="0.9850" stop-color="#00cdff"/>
</radialGradient>
<radialGradient id="w140" gradientUnits="userSpaceOnUse" cx="0" cy="0" r="10">
<stop offset="0.6580" stop-color="#ff0000"/>
<stop offset="0.7170" stop-color="#ff0000"/>
<stop offset="0.7238" stop-color="#ff6b00"/>
<stop offset="0.7307" stop-color="#fff500"/>
<stop offset="0.7375" stop-color="#18ff00"/>
<stop offset="0.7443" stop-color="#00ffdf"/>
<stop offset="0.7512" stop-color="#0092ff"/>
<stop offset="0.7580" stop-color="#2822ff"/>
<stop offset="0.7850" stop-color="#2822ff"/>
<stop offset="0.8105" stop-color="#0099ff"/>
<stop offset="0.9290" stop-color="#0099ff"/>
<stop offset="0.9710" stop-color="#009eff"/>
<stop offset="0.9850" stop-color="#00cbff"/>
</radialGradient>
<radialGradient id="w141" gradientUnits="userSpaceOnUse" cx="0" cy="0" r="10">
<stop offset="0.6580" stop-color="#ff0000"/>
<stop offset="0.7170" stop-color="#ff0000"/>
<stop offset="0.7238" stop-color="#ff6b00"/>
<stop offset="0.7307" stop-color="#fff600"/>
<stop offset="0.7375" stop-color="#17ff00"/>
<stop offset="0.7443" stop-color="#00ffe0"/>
<stop offset="0.7512" stop-color="#0091ff"/>
<stop offset="0.7580" stop-color="#2921ff"/>
<stop offset="0.7841" stop-color="#2921ff"/>
<stop offset="0.8093" stop-color="#009aff"/>
<stop offset="0.9295" stop-color="#009aff"/>
<stop offset="0.9710" stop-color="#009dff"/>
<stop offset="0.9850" stop-color="#00caff"/>
</radialGradient>
<radialGradient id="w142" gradientUnits="userSpaceOnUse" cx="0" cy="0" r="10">
<stop offset="0.6580" stop-color="#ff0000"/>
<stop offset="0.7170" stop-color="#ff0000"/>
<stop offset="0.7238" stop-color="#ff6b00"/>
<stop offset="0.7307" stop-color="#fff600"/>
<stop offset="0.7375" stop-color="#17ff00"/>
<stop offset="0.7443" stop-color="#00ffe1"/>
<stop offset="0.7512" stop-color="#0091ff"/>
<stop offset="0.7580" stop-color="#2920ff"/>
<stop offset="0.7834" stop-color="#2920ff"/>
<stop offset="0.8085" stop-color="#009bff"/>
<stop offset="0.9298" stop-color="#009bff"/>
<stop offset="0.9710" stop-color="#009cff"/>
<stop offset="0.9850" stop-color="#00c9ff"/>
</radialGradient>
<radialGradient id="w143" gradientUnits="userSpaceOnUse" cx="0" cy="0" r="10">
<stop offset="0.6580" stop-color="#ff0000"/>
<stop offset="0.7170" stop-color="#ff0000"/>
<stop offset="0.7238" stop-color="#ff6b00"/>
<stop offset="0.7307" stop-color="#fff600"/>
<stop offset="0.7375" stop-color="#16ff00"/>
<stop offset="0.7443" stop-color="#00ffe1"/>
<stop offset="0.7512" stop-color="#0091ff"/>
<stop offset="0.7580" stop-color="#2920ff"/>
<stop offset="0.7830" stop-color="#2920ff"/>
<stop offset="0.8081" stop-color="#009bff"/>
<stop offset="0.9300" stop-color="#009bff"/>
<stop offset="0.9710" stop-color="#009bff"/>
<stop offset="0.9850" stop-color="#00c9ff"/>
</radialGradient>
<radialGradient id="bg" gradientUnits="userSpaceOnUse" cx="0" cy="0.5" r="14.5">
<stop offset="0.68" stop-color="#242cff"/>
<stop offset="1" stop-color="#460dff"/>
</radialGradient>
<linearGradient id="bg2" x1="0" y1="0" x2="0" y2="1"><stop offset="0" stop-color="#4010ff" stop-opacity="0.35"/><stop offset="0.45" stop-color="#3020ff" stop-opacity="0"/><stop offset="1" stop-color="#0858ff" stop-opacity="0.85"/></linearGradient>
<filter id="nz" x="0" y="0" width="100%" height="100%"><feTurbulence type="fractalNoise" baseFrequency="0.22" numOctaves="2" seed="3" result="t"/><feColorMatrix type="matrix" values="0 0 0 0 0.1  0 0 0 0 0.3  0 0 0 0 0.9  0.9 0 0 0 -0.25"/></filter>
<filter id="bl" x="0" y="540" width="520" height="360" filterUnits="userSpaceOnUse"><feGaussianBlur stdDeviation="0.9"/></filter>
<clipPath id="fr"><rect x="47" y="545.5" width="356.5" height="341"/></clipPath>
<clipPath id="ann"><path clip-rule="evenodd" d="M-9.9 0 A9.9 9.9 0 1 0 9.9 0 A9.9 9.9 0 1 0 -9.9 0 Z M-6.9 0 A6.9 6.9 0 1 1 6.9 0 A6.9 6.9 0 1 1 -6.9 0 Z"/></clipPath>
</defs>
<rect width="520" height="932" fill="#fff"/>
<rect x="384" y="3" width="62" height="194.2" fill="#c1c1c1"/>
<path d="M90.0 127.5 L92.9 127.1 L95.8 126.7 L98.6 126.1 L101.5 126.1 L104.4 125.7 L107.3 125.1 L110.2 124.4 L113.0 124.1 L115.9 123.6 L118.8 123.0 L121.7 123.6 L124.6 123.7 L127.5 123.3 L130.4 123.9 L133.3 123.9 L136.2 123.8 L139.1 123.8 L141.9 124.0 L144.8 123.9 L147.7 124.1 L150.6 124.4 L153.5 124.4 L156.3 125.1 L159.2 125.5 L162.1 125.8 L165.0 126.7 L167.9 127.5 L170.7 128.6 L173.6 129.8 L176.5 131.5 L179.4 133.1 L182.3 135.2 L185.2 137.5 L188.1 139.2 L191.0 141.3 L193.9 143.9 L196.8 146.2 L199.6 149.2 L202.5 151.9 L205.4 154.1 L208.3 157.3 L211.2 160.6 L214.0 163.6 L216.9 167.0 L219.8 170.4 L222.7 172.7 L225.6 175.1 L228.4 177.7 L231.3 179.7 L234.2 182.3 L237.1 183.7 L240.0 185.3 L242.9 186.4 L245.8 188.2 L248.7 189.2 L251.6 190.3 L254.4 191.7 L257.3 192.9 L260.2 193.1 L263.1 193.6 L265.9 194.1 L268.8 194.7 L271.7 195.1 L274.6 195.1 L277.5 195.4 L280.4 195.8 L283.3 195.9 L286.2 196.3 L289.1 196.5 L291.9 196.6 L294.8 196.6 L297.7 196.6 L300.2 196.7 L302.7 196.4 L305.2 196.9 L307.7 196.6 L310.2 196.6 L312.8 196.5 L315.3 196.7 L317.8 196.8 L320.3 196.7 L322.8 197.0 L325.3 196.9 L327.8 196.7 L330.3 196.8 L332.8 197.1 L335.3 196.8 L337.8 196.9 L340.4 196.6 L342.9 196.9 L345.4 196.8 L347.9 196.8 L350.4 196.8 L352.9 196.9 L355.4 196.9 L357.9 196.9 L360.4 196.7 L362.9 196.9 L365.4 197.2 L367.9 196.9 L370.5 196.7 L373.0 196.7 L375.5 197.0 L378.0 196.7 L380.5 196.7 L383.0 197.0" fill="none" stroke="#000" stroke-width="2.3" stroke-linejoin="round"/>
<path d="M90.0 43.3 L91.6 42.9 L93.3 44.0 L94.9 41.3 L96.6 40.8 L98.2 40.6 L99.9 38.1 L101.5 39.0 L103.2 39.3 L104.9 39.8 L106.5 36.3 L108.2 37.1 L109.9 35.9 L111.6 38.9 L113.4 38.5 L115.2 35.7 L117.0 40.2 L118.8 40.2 L120.4 39.3 L122.0 39.7 L123.6 38.1 L125.2 37.9 L126.9 40.8 L128.5 39.1 L130.1 40.3 L131.7 41.0 L133.3 40.5 L135.1 43.0 L136.9 43.3 L138.7 45.6 L140.5 44.5 L142.3 45.5 L144.1 45.3 L145.9 46.5 L147.7 46.0 L149.3 46.0 L150.9 50.1 L152.5 50.9 L154.1 51.0 L155.7 51.2 L157.3 50.2 L158.9 50.6 L160.5 51.6 L162.1 51.4 L163.7 56.4 L165.3 56.5 L166.9 60.3 L168.5 59.9 L170.1 64.3 L171.7 65.5 L173.3 63.4 L174.9 66.1 L176.5 71.1 L178.1 71.0 L179.7 75.3 L181.3 74.5 L182.9 74.9 L184.6 79.4 L186.2 82.0 L187.8 81.6 L189.4 82.7 L191.0 85.7 L192.6 90.2 L194.2 90.9 L195.8 89.6 L197.4 91.8 L199.0 92.7 L200.6 94.1 L202.2 99.1 L203.8 97.9 L205.4 101.3 L207.0 102.7 L208.6 103.4 L210.2 107.8 L211.8 107.0 L213.4 111.3 L215.0 110.8 L216.6 114.1 L218.2 115.1 L219.8 117.2 L221.6 121.9 L223.4 122.6 L225.2 121.7 L227.0 125.8 L228.8 124.2 L230.6 126.4 L232.4 130.0 L234.2 130.5 L236.1 129.2 L238.1 134.6 L240.0 132.3 L241.6 133.4 L243.2 136.8 L244.8 135.7 L246.4 136.5 L248.0 136.4 L249.6 137.4 L251.2 140.7 L252.8 140.1 L254.4 142.7 L256.0 142.1 L257.6 142.9 L259.2 145.7 L260.8 144.0 L262.4 144.9 L264.0 146.8 L265.6 144.1 L267.2 144.4 L268.8 148.4 L270.4 148.5 L272.0 146.3 L273.6 146.5 L275.2 149.6 L276.9 151.0 L278.5 148.0 L280.1 152.0 L281.7 152.2 L283.3 151.4 L285.1 151.0 L286.9 150.0 L288.7 150.2 L290.5 154.9 L292.3 152.0 L294.1 154.4 L295.9 153.8 L297.7 156.0 L299.3 154.5 L300.9 156.8 L302.5 155.7 L304.1 155.5 L305.7 156.8 L307.3 159.5 L308.9 158.1 L310.5 158.8 L312.1 160.4 L313.9 160.9 L315.7 160.3 L317.5 159.1 L319.3 160.1 L321.1 161.8 L322.9 161.6 L324.7 161.0 L326.5 160.2 L328.1 160.9 L329.7 163.0 L331.3 162.8 L332.9 161.0 L334.6 164.5 L336.2 165.9 L337.8 166.0 L339.4 167.0 L341.0 167.6 L342.8 166.4 L344.6 168.0 L346.4 166.7 L348.2 165.9 L350.0 167.5 L351.8 167.7 L353.6 170.9 L355.4 170.3 L357.0 170.3 L358.6 171.3 L360.2 169.8 L361.8 172.2 L363.4 173.6 L365.0 172.9 L366.6 172.9 L368.2 174.2 L369.8 174.5 L371.5 177.9 L373.3 177.7 L375.0 179.2 L376.8 181.9 L378.5 185.0 L381.3 187.0 L383.4 196.5" fill="none" stroke="#f8000c" stroke-width="2.2" stroke-linejoin="round"/>
<path d="M90.0 112.5 L91.6 113.1 L93.2 113.1 L94.8 110.8 L96.4 110.1 L98.0 111.7 L99.6 111.2 L101.2 113.5 L102.8 112.9 L104.4 112.4 L106.2 112.5 L108.0 113.2 L109.8 111.2 L111.6 112.7 L113.4 111.8 L115.2 115.3 L117.0 111.8 L118.8 115.4 L120.4 112.4 L122.0 115.3 L123.6 113.9 L125.2 114.5 L126.9 116.6 L128.5 113.2 L130.1 113.6 L131.7 117.6 L133.3 116.0 L135.1 114.6 L136.9 118.8 L138.7 119.0 L140.5 115.7 L142.3 117.4 L144.1 116.5 L145.9 117.6 L147.7 119.3 L149.3 118.1 L150.9 121.2 L152.5 119.1 L154.1 120.3 L155.7 123.9 L157.3 122.8 L158.9 123.7 L160.5 125.2 L162.1 125.4 L163.7 126.1 L165.3 125.7 L166.9 129.9 L168.5 132.0 L170.1 133.2 L171.7 133.0 L173.3 132.7 L174.9 133.9 L176.5 136.4 L178.1 137.1 L179.7 135.3 L181.3 136.6 L182.9 137.8 L184.6 139.2 L186.2 141.2 L187.8 140.6 L189.4 139.2 L191.0 143.4 L192.6 141.9 L194.2 142.6 L195.8 141.5 L197.4 142.7 L199.0 142.7 L200.6 144.7 L202.2 142.0 L203.8 144.2 L205.4 142.8 L207.0 145.3 L208.6 142.7 L210.2 144.0 L211.8 144.5 L213.4 146.1 L215.0 143.8 L216.6 145.8 L218.2 145.0 L219.8 145.5 L221.5 146.3 L223.2 148.4 L224.9 146.2 L226.5 148.2 L228.2 144.7 L229.9 148.0 L231.6 145.4 L233.3 144.6 L234.9 147.0 L236.6 147.6 L238.3 143.6 L240.0 144.7 L241.9 146.4 L243.9 144.0 L245.8 143.1 L247.5 143.1 L249.2 144.3 L251.0 147.8 L252.7 150.5 L254.4 151.6 L256.0 149.4 L257.6 147.3 L259.2 148.6 L260.8 150.7 L262.4 150.9 L264.0 150.0 L265.6 148.2 L267.2 149.5 L268.8 149.3 L270.4 150.2 L272.0 148.9 L273.6 152.1 L275.2 152.2 L276.9 149.2 L278.5 150.0 L280.1 152.8 L281.7 150.5 L283.3 153.7 L285.1 152.1 L286.9 153.3 L288.7 153.7 L290.5 151.9 L292.3 152.6 L294.1 152.8 L295.9 155.0 L297.7 155.5 L299.3 153.4 L300.9 157.1 L302.5 155.4 L304.1 155.0 L305.7 156.3 L307.3 159.0 L308.9 157.6 L310.5 158.3 L312.1 159.9 L313.9 160.4 L315.7 159.8 L317.5 158.6 L319.3 159.6 L321.1 161.3 L322.9 161.1 L324.7 160.5 L326.5 159.7 L328.1 160.4 L329.7 162.5 L331.3 162.3 L332.9 160.5 L334.6 164.0 L336.2 165.4 L337.8 165.5 L339.4 166.5 L341.0 167.1 L342.8 165.9 L344.6 167.5 L346.4 166.2 L348.2 165.4 L350.0 167.0 L351.8 167.2 L353.6 170.4 L355.4 169.8 L357.0 169.8 L358.6 170.8 L360.2 169.3 L361.8 171.7 L363.4 173.1 L365.0 172.4 L366.6 172.4 L368.2 173.7 L369.8 174.0 L371.6 177.6 L373.4 177.1 L375.2 178.8 L377.0 181.8 L379.9 187.0 L381.3 184.0 L382.6 113.4 L383.4 155.0 L384.2 196.8 L446.0 196.8" fill="none" stroke="#0808f8" stroke-width="2.2" stroke-linejoin="round"/>
<rect x="90" y="3" width="356" height="194.2" fill="none" stroke="#333" stroke-width="1.2"/>
<g stroke="#333" stroke-width="1"><line x1="90" y1="197.2" x2="96" y2="197.2"/><line x1="90" y1="161.9" x2="96" y2="161.9"/><line x1="90" y1="126.7" x2="96" y2="126.7"/><line x1="90" y1="91.4" x2="96" y2="91.4"/><line x1="90" y1="56.2" x2="96" y2="56.2"/><line x1="90" y1="20.9" x2="96" y2="20.9"/><line x1="90" y1="179.6" x2="93.5" y2="179.6"/><line x1="90" y1="144.3" x2="93.5" y2="144.3"/><line x1="90" y1="109.1" x2="93.5" y2="109.1"/><line x1="90" y1="73.8" x2="93.5" y2="73.8"/><line x1="90" y1="38.6" x2="93.5" y2="38.6"/><line x1="188.0" y1="197.2" x2="188.0" y2="191.2"/><line x1="286.0" y1="197.2" x2="286.0" y2="191.2"/><line x1="139.0" y1="197.2" x2="139.0" y2="193.7"/><line x1="237.0" y1="197.2" x2="237.0" y2="193.7"/><line x1="335.0" y1="197.2" x2="335.0" y2="193.7"/></g>
<g font-family="'Liberation Serif',serif" font-size="17" fill="#222" text-anchor="end">
<text x="82.5" y="202.8">0.0</text>
<text x="82.5" y="167.5">0.5</text>
<text x="82.5" y="132.3">1.0</text>
<text x="82.5" y="97.0">1.5</text>
<text x="82.5" y="61.8">2.0</text>
<text x="82.5" y="26.5">2.5</text>
</g>
<text transform="translate(46,189.0) rotate(-90)" font-family="'Liberation Serif',serif" font-size="23.5" fill="#222" textLength="173" lengthAdjust="spacingAndGlyphs">Density [10<tspan dy="-8" font-size="15">17</tspan><tspan dy="8"> m</tspan><tspan dy="-8" font-size="15">-3</tspan><tspan dy="8">]</tspan></text>
<rect x="240" y="4.2" width="49.4" height="25.6" fill="#fff" stroke="#c4c4c4" stroke-width="1"/>
<text x="242.7" y="22.1" font-family="'Liberation Serif',serif" font-weight="bold" font-size="17" fill="#111" textLength="44" lengthAdjust="spacingAndGlyphs">Right</text>
<text x="404.3" y="24.6" font-family="'Liberation Serif',serif" font-weight="bold" font-size="15.5" fill="#111" textLength="23.4" lengthAdjust="spacingAndGlyphs">PG</text>
<text x="325" y="35.2" font-family="'Liberation Sans',sans-serif" font-size="26.5" fill="#000">(a)</text>
<text x="114" y="27" font-family="'Liberation Serif',serif" font-weight="bold" font-size="17" fill="#e8101c">H<tspan dy="-5.5" font-size="13" font-weight="normal">+</tspan></text>
<text x="110.3" y="104" font-family="'Liberation Serif',serif" font-weight="bold" font-size="17" fill="#1414e0">H<tspan dy="-7" font-size="13">−</tspan></text>
<text x="236" y="175.6" font-family="'Liberation Serif',serif" font-weight="bold" font-size="17" fill="#111">e<tspan dy="-7" font-size="12">−</tspan></text>
<rect x="384" y="274" width="62" height="194.2" fill="#c1c1c1"/>
<path d="M90.0 398.4 L92.9 397.8 L95.8 397.2 L98.6 396.6 L101.5 395.4 L104.4 395.0 L107.3 394.9 L110.2 394.5 L113.0 393.9 L115.9 393.3 L118.8 393.1 L121.7 393.6 L124.6 392.9 L127.5 393.1 L130.4 393.5 L133.3 393.2 L136.2 393.1 L139.1 393.4 L141.9 394.0 L144.8 393.7 L147.7 393.9 L150.6 394.4 L153.5 394.8 L156.3 394.9 L159.2 394.9 L162.1 395.6 L165.0 395.6 L167.9 396.0 L170.7 396.5 L173.6 397.2 L176.5 397.3 L179.4 397.9 L182.3 397.8 L185.2 398.1 L188.1 398.3 L191.0 399.1 L193.9 399.3 L196.8 399.0 L199.6 399.2 L202.5 399.3 L205.4 399.9 L208.3 399.8 L211.2 399.8 L214.0 400.3 L216.9 400.4 L219.8 400.4 L222.7 400.5 L225.6 401.2 L228.4 401.5 L231.3 401.7 L234.2 401.8 L237.1 402.6 L240.0 402.7 L242.9 402.9 L245.8 403.6 L248.6 403.7 L251.5 403.9 L254.4 404.1 L257.3 404.7 L260.2 404.9 L263.0 405.1 L265.9 405.7 L268.8 405.9 L271.7 405.7 L274.6 406.6 L277.5 406.2 L280.4 407.1 L283.3 407.2 L286.2 407.9 L289.1 408.4 L291.9 408.5 L294.8 409.1 L297.7 409.0 L300.6 410.3 L303.5 410.7 L306.3 411.8 L309.2 412.6 L312.1 413.3 L315.0 415.1 L317.9 415.9 L320.7 417.3 L323.6 418.4 L326.5 420.1 L329.4 421.5 L332.3 422.9 L335.2 424.4 L338.1 426.2 L341.0 428.0 L343.9 429.1 L346.8 430.6 L349.6 432.5 L352.5 433.9 L355.4 435.0 L358.3 437.0 L361.1 438.6 L364.0 440.5 L366.9 442.4 L370.5 446.6 L374.1 451.0 L378.5 459.6 L381.3 467.0" fill="none" stroke="#000" stroke-width="2.3" stroke-linejoin="round"/>
<path d="M90.0 312.7 L91.6 313.5 L93.2 312.8 L94.8 311.6 L96.4 309.8 L98.0 312.8 L99.6 312.5 L101.2 310.5 L102.8 310.2 L104.4 308.3 L106.2 306.8 L108.0 308.8 L109.8 310.0 L111.6 306.9 L113.4 310.9 L115.2 307.6 L117.0 307.5 L118.8 306.3 L120.7 310.8 L122.7 308.3 L124.6 308.2 L126.3 307.5 L128.1 305.1 L129.8 307.7 L131.6 309.5 L133.3 308.2 L135.1 313.5 L136.9 310.7 L138.7 310.0 L140.5 314.4 L142.3 310.9 L144.1 316.1 L145.9 313.9 L147.7 315.0 L149.3 314.8 L150.9 316.5 L152.5 315.8 L154.1 315.9 L155.7 321.6 L157.3 319.0 L158.9 323.1 L160.5 320.8 L162.1 326.1 L163.7 327.3 L165.3 328.1 L166.9 329.7 L168.5 330.3 L170.1 332.7 L171.7 330.8 L173.3 334.5 L174.9 338.1 L176.5 336.1 L178.1 341.0 L179.7 341.6 L181.3 339.7 L182.9 340.2 L184.6 341.5 L186.2 341.9 L187.8 346.2 L189.4 343.5 L191.0 342.3 L192.6 343.2 L194.2 347.4 L195.8 349.6 L197.4 347.3 L199.0 347.8 L200.6 348.8 L202.2 350.5 L203.8 348.0 L205.4 350.8 L207.0 350.7 L208.6 351.2 L210.2 348.8 L211.8 348.9 L213.4 350.1 L215.0 353.6 L216.6 350.4 L218.2 352.0 L219.8 350.5 L221.6 349.9 L223.4 350.2 L225.2 355.1 L227.0 355.4 L228.8 353.6 L230.6 356.0 L232.4 356.5 L234.2 358.3 L236.1 358.8 L238.1 355.8 L240.0 359.3 L241.6 359.3 L243.2 357.2 L244.8 359.0 L246.4 356.8 L248.0 356.3 L249.6 355.6 L251.2 359.4 L252.8 355.4 L254.4 354.9 L256.0 359.7 L257.6 360.1 L259.2 358.9 L260.8 361.5 L262.4 357.5 L264.0 359.3 L265.6 360.0 L267.2 361.3 L268.8 360.4 L270.4 360.3 L272.0 362.4 L273.6 366.1 L275.2 367.1 L276.9 366.3 L278.5 365.2 L280.1 364.5 L281.7 369.0 L283.3 367.0 L285.1 368.7 L286.9 365.1 L288.7 366.6 L290.5 370.6 L292.3 370.8 L294.1 371.7 L295.9 370.5 L297.7 370.0 L299.3 371.7 L300.9 374.0 L302.5 371.7 L304.1 373.8 L305.7 373.1 L307.3 376.7 L308.9 373.2 L310.5 377.9 L312.1 380.2 L313.9 375.8 L315.7 379.9 L317.5 381.1 L319.3 383.2 L321.1 382.6 L322.9 381.6 L324.7 383.4 L326.5 387.4 L328.1 388.1 L329.7 384.6 L331.3 385.4 L332.9 386.3 L334.6 386.9 L336.2 390.3 L337.8 389.5 L339.4 394.6 L341.0 394.4 L342.8 392.4 L344.6 395.9 L346.4 395.7 L348.2 397.8 L350.0 397.3 L351.8 398.0 L353.6 399.2 L355.4 401.4 L357.0 404.8 L358.7 405.3 L360.3 403.8 L362.0 409.1 L363.6 411.5 L365.3 412.3 L366.9 413.9 L368.6 412.5 L370.4 418.3 L372.1 419.2 L373.9 426.4 L375.6 428.0 L379.9 442.5 L382.2 457.0 L383.4 467.0" fill="none" stroke="#f8000c" stroke-width="2.2" stroke-linejoin="round"/>
<path d="M90.0 381.9 L91.9 379.5 L93.9 378.3 L95.8 383.2 L97.5 379.4 L99.2 379.8 L101.0 383.4 L102.7 382.4 L104.4 386.0 L106.2 382.2 L108.0 386.0 L109.8 382.2 L111.6 383.5 L113.4 385.1 L115.2 383.5 L117.0 384.6 L118.8 383.1 L120.5 380.2 L122.3 385.5 L124.0 384.5 L125.8 383.7 L127.5 383.7 L129.4 387.8 L131.4 386.8 L133.3 389.2 L134.9 388.3 L136.6 389.3 L138.2 387.2 L139.9 387.9 L141.5 387.4 L143.2 385.5 L144.8 389.3 L146.5 387.1 L148.3 391.0 L150.0 393.3 L151.8 393.0 L153.5 391.5 L155.2 396.0 L156.9 395.8 L158.7 393.8 L160.4 393.7 L162.1 397.1 L163.8 396.3 L165.6 403.3 L167.3 403.0 L169.1 405.1 L170.8 406.5 L172.4 408.4 L174.1 410.4 L175.7 407.6 L177.4 408.5 L179.0 410.2 L180.7 409.1 L182.3 411.3 L184.0 411.7 L185.8 411.8 L187.5 413.8 L189.3 413.7 L191.0 411.9 L192.6 417.4 L194.2 414.4 L195.8 415.3 L197.4 415.6 L199.0 419.0 L200.6 419.6 L202.2 417.7 L203.8 417.6 L205.4 416.4 L207.0 420.7 L208.6 416.6 L210.2 418.6 L211.8 417.4 L213.4 417.2 L215.0 417.2 L216.6 416.2 L218.2 415.3 L219.8 417.9 L221.4 420.1 L223.1 420.0 L224.7 418.3 L226.4 421.7 L228.0 419.0 L229.7 421.7 L231.3 424.7 L233.0 425.0 L234.8 422.2 L236.5 424.1 L238.3 422.0 L240.0 421.9 L241.6 422.3 L243.2 424.5 L244.8 423.1 L246.4 421.6 L248.0 423.0 L249.6 422.5 L251.2 420.9 L252.8 423.3 L254.4 423.5 L256.0 422.8 L257.6 425.2 L259.2 420.7 L260.8 423.9 L262.4 425.2 L264.0 424.1 L265.6 423.7 L267.2 427.1 L268.8 426.2 L270.4 425.5 L272.0 424.4 L273.6 429.6 L275.2 426.4 L276.9 425.3 L278.5 426.0 L280.1 426.3 L281.7 429.9 L283.3 426.2 L285.1 427.0 L286.9 426.2 L288.7 428.4 L290.5 427.1 L292.3 428.1 L294.1 430.4 L295.9 431.7 L297.7 431.3 L299.3 427.2 L300.9 429.3 L302.5 432.1 L304.1 427.8 L305.7 429.0 L307.3 430.8 L308.9 430.4 L310.5 432.7 L312.1 432.7 L313.9 431.5 L315.7 430.6 L317.5 430.7 L319.3 431.1 L321.1 430.2 L322.9 433.8 L324.7 431.2 L326.5 435.4 L328.1 434.1 L329.7 430.9 L331.3 433.3 L332.9 433.9 L334.6 430.8 L336.2 433.2 L337.8 430.7 L339.4 434.8 L341.0 430.6 L342.8 434.2 L344.6 436.2 L346.4 435.6 L348.2 432.4 L350.0 434.2 L351.8 432.1 L353.6 433.4 L355.4 436.4 L357.0 436.8 L358.7 433.0 L360.3 435.7 L362.0 437.8 L363.6 435.9 L365.3 440.0 L366.9 441.2 L368.7 440.9 L370.5 441.4 L372.3 445.7 L374.1 445.5 L376.3 447.3 L378.5 452.6 L380.5 454.0 L381.6 445.4 L382.6 376.2 L383.4 425.0 L383.9 466.0" fill="none" stroke="#0808f8" stroke-width="2.2" stroke-linejoin="round"/>
<rect x="90" y="274" width="356" height="194.2" fill="none" stroke="#333" stroke-width="1.2"/>
<g stroke="#333" stroke-width="1"><line x1="90" y1="468.2" x2="96" y2="468.2"/><line x1="90" y1="432.9" x2="96" y2="432.9"/><line x1="90" y1="397.7" x2="96" y2="397.7"/><line x1="90" y1="362.4" x2="96" y2="362.4"/><line x1="90" y1="327.2" x2="96" y2="327.2"/><line x1="90" y1="291.9" x2="96" y2="291.9"/><line x1="90" y1="450.6" x2="93.5" y2="450.6"/><line x1="90" y1="415.3" x2="93.5" y2="415.3"/><line x1="90" y1="380.1" x2="93.5" y2="380.1"/><line x1="90" y1="344.8" x2="93.5" y2="344.8"/><line x1="90" y1="309.6" x2="93.5" y2="309.6"/><line x1="188.0" y1="468.2" x2="188.0" y2="462.2"/><line x1="286.0" y1="468.2" x2="286.0" y2="462.2"/><line x1="139.0" y1="468.2" x2="139.0" y2="464.7"/><line x1="237.0" y1="468.2" x2="237.0" y2="464.7"/><line x1="335.0" y1="468.2" x2="335.0" y2="464.7"/></g>
<g font-family="'Liberation Serif',serif" font-size="17" fill="#222" text-anchor="end">
<text x="82.5" y="473.8">0.0</text>
<text x="82.5" y="438.6">0.5</text>
<text x="82.5" y="403.3">1.0</text>
<text x="82.5" y="368.1">1.5</text>
<text x="82.5" y="332.8">2.0</text>
<text x="82.5" y="297.6">2.5</text>
</g>
<text transform="translate(46,460.0) rotate(-90)" font-family="'Liberation Serif',serif" font-size="23.5" fill="#222" textLength="173" lengthAdjust="spacingAndGlyphs">Density [10<tspan dy="-8" font-size="15">17</tspan><tspan dy="8"> m</tspan><tspan dy="-8" font-size="15">-3</tspan><tspan dy="8">]</tspan></text>
<rect x="240" y="274.5" width="65.4" height="25.6" fill="#fff" stroke="#c4c4c4" stroke-width="1"/>
<text x="242.7" y="293.5" font-family="'Liberation Serif',serif" font-weight="bold" font-size="17" fill="#111" textLength="60" lengthAdjust="spacingAndGlyphs">Bottom</text>
<text x="404.3" y="295.4" font-family="'Liberation Serif',serif" font-weight="bold" font-size="15.5" fill="#111" textLength="23.4" lengthAdjust="spacingAndGlyphs">PG</text>
<text x="335.5" y="310.6" font-family="'Liberation Sans',sans-serif" font-size="26.5" fill="#000">(b)</text>
<text x="114" y="298.3" font-family="'Liberation Serif',serif" font-weight="bold" font-size="17" fill="#e8101c">H<tspan dy="-5.5" font-size="13" font-weight="normal">+</tspan></text>
<text x="110.5" y="375" font-family="'Liberation Serif',serif" font-weight="bold" font-size="17" fill="#1414e0">H<tspan dy="-7" font-size="13">−</tspan></text>
<text x="236.8" y="402.3" font-family="'Liberation Serif',serif" font-weight="bold" font-size="17" fill="#111">e<tspan dy="-7" font-size="12">−</tspan></text>
<g font-family="'Liberation Serif',serif" font-size="16.5" fill="#222" text-anchor="middle">
<text x="89.5" y="487">15</text>
<text x="188.0" y="487">10</text>
<text x="286.5" y="487">5</text>
<text x="385.0" y="487">0</text>
</g>
<text x="139" y="509.4" font-family="'Liberation Serif',serif" font-size="22.8" fill="#222" textLength="240" lengthAdjust="spacingAndGlyphs">Distance from PG [mm]</text>
<g clip-path="url(#fr)"><g filter="url(#bl)"><g transform="translate(225.7,716.45) scale(17.775,17.06)">
<rect x="-10.5" y="-10.5" width="21" height="21" fill="url(#bg)"/>
<rect x="-10.5" y="-10.5" width="21" height="21" fill="url(#bg2)"/>
<g clip-path="url(#ann)">
<path d="M0 0L10.199 0.122L10.184 -0.567Z" fill="url(#w0)"/>
<path d="M0 0L10.195 -0.323L10.150 -1.011Z" fill="url(#w1)"/>
<path d="M0 0L10.171 -0.767L10.096 -1.453Z" fill="url(#w2)"/>
<path d="M0 0L10.128 -1.210L10.023 -1.892Z" fill="url(#w3)"/>
<path d="M0 0L10.066 -1.651L9.931 -2.327Z" fill="url(#w4)"/>
<path d="M0 0L9.984 -2.088L9.820 -2.758Z" fill="url(#w5)"/>
<path d="M0 0L9.883 -2.522L9.690 -3.184Z" fill="url(#w6)"/>
<path d="M0 0L9.764 -2.950L9.542 -3.603Z" fill="url(#w7)"/>
<path d="M0 0L9.626 -3.373L9.376 -4.016Z" fill="url(#w8)"/>
<path d="M0 0L9.470 -3.790L9.192 -4.421Z" fill="url(#w9)"/>
<path d="M0 0L9.295 -4.199L8.990 -4.818Z" fill="url(#w10)"/>
<path d="M0 0L9.103 -4.601L8.772 -5.206Z" fill="url(#w11)"/>
<path d="M0 0L8.894 -4.994L8.536 -5.583Z" fill="url(#w12)"/>
<path d="M0 0L8.668 -5.377L8.285 -5.950Z" fill="url(#w13)"/>
<path d="M0 0L8.425 -5.750L8.017 -6.306Z" fill="url(#w14)"/>
<path d="M0 0L8.166 -6.112L7.734 -6.650Z" fill="url(#w15)"/>
<path d="M0 0L7.892 -6.462L7.437 -6.981Z" fill="url(#w16)"/>
<path d="M0 0L7.602 -6.800L7.125 -7.299Z" fill="url(#w17)"/>
<path d="M0 0L7.299 -7.125L6.800 -7.602Z" fill="url(#w18)"/>
<path d="M0 0L6.981 -7.437L6.462 -7.892Z" fill="url(#w19)"/>
<path d="M0 0L6.650 -7.734L6.112 -8.166Z" fill="url(#w20)"/>
<path d="M0 0L6.306 -8.017L5.750 -8.425Z" fill="url(#w21)"/>
<path d="M0 0L5.950 -8.285L5.377 -8.668Z" fill="url(#w22)"/>
<path d="M0 0L5.583 -8.536L4.994 -8.894Z" fill="url(#w23)"/>
<path d="M0 0L5.206 -8.772L4.601 -9.103Z" fill="url(#w24)"/>
<path d="M0 0L4.818 -8.990L4.199 -9.295Z" fill="url(#w25)"/>
<path d="M0 0L4.421 -9.192L3.790 -9.470Z" fill="url(#w26)"/>
<path d="M0 0L4.016 -9.376L3.373 -9.626Z" fill="url(#w27)"/>
<path d="M0 0L3.603 -9.542L2.950 -9.764Z" fill="url(#w28)"/>
<path d="M0 0L3.184 -9.690L2.522 -9.883Z" fill="url(#w29)"/>
<path d="M0 0L2.758 -9.820L2.088 -9.984Z" fill="url(#w30)"/>
<path d="M0 0L2.327 -9.931L1.651 -10.066Z" fill="url(#w31)"/>
<path d="M0 0L1.892 -10.023L1.210 -10.128Z" fill="url(#w32)"/>
<path d="M0 0L1.453 -10.096L0.767 -10.171Z" fill="url(#w33)"/>
<path d="M0 0L1.011 -10.150L0.323 -10.195Z" fill="url(#w34)"/>
<path d="M0 0L0.567 -10.184L-0.122 -10.199Z" fill="url(#w35)"/>
<path d="M0 0L0.122 -10.199L-0.567 -10.184Z" fill="url(#w36)"/>
<path d="M0 0L-0.323 -10.195L-1.011 -10.150Z" fill="url(#w37)"/>
<path d="M0 0L-0.767 -10.171L-1.453 -10.096Z" fill="url(#w38)"/>
<path d="M0 0L-1.210 -10.128L-1.892 -10.023Z" fill="url(#w39)"/>
<path d="M0 0L-1.651 -10.066L-2.327 -9.931Z" fill="url(#w40)"/>
<path d="M0 0L-2.088 -9.984L-2.758 -9.820Z" fill="url(#w41)"/>
<path d="M0 0L-2.522 -9.883L-3.184 -9.690Z" fill="url(#w42)"/>
<path d="M0 0L-2.950 -9.764L-3.603 -9.542Z" fill="url(#w43)"/>
<path d="M0 0L-3.373 -9.626L-4.016 -9.376Z" fill="url(#w44)"/>
<path d="M0 0L-3.790 -9.470L-4.421 -9.192Z" fill="url(#w45)"/>
<path d="M0 0L-4.199 -9.295L-4.818 -8.990Z" fill="url(#w46)"/>
<path d="M0 0L-4.601 -9.103L-5.206 -8.772Z" fill="url(#w47)"/>
<path d="M0 0L-4.994 -8.894L-5.583 -8.536Z" fill="url(#w48)"/>
<path d="M0 0L-5.377 -8.668L-5.950 -8.285Z" fill="url(#w49)"/>
<path d="M0 0L-5.750 -8.425L-6.306 -8.017Z" fill="url(#w50)"/>
<path d="M0 0L-6.112 -8.166L-6.650 -7.734Z" fill="url(#w51)"/>
<path d="M0 0L-6.462 -7.892L-6.981 -7.437Z" fill="url(#w52)"/>
<path d="M0 0L-6.800 -7.602L-7.299 -7.125Z" fill="url(#w53)"/>
<path d="M0 0L-7.125 -7.299L-7.602 -6.800Z" fill="url(#w54)"/>
<path d="M0 0L-7.437 -6.981L-7.892 -6.462Z" fill="url(#w55)"/>
<path d="M0 0L-7.734 -6.650L-8.166 -6.112Z" fill="url(#w56)"/>
<path d="M0 0L-8.017 -6.306L-8.425 -5.750Z" fill="url(#w57)"/>
<path d="M0 0L-8.285 -5.950L-8.668 -5.377Z" fill="url(#w58)"/>
<path d="M0 0L-8.536 -5.583L-8.894 -4.994Z" fill="url(#w59)"/>
<path d="M0 0L-8.772 -5.206L-9.103 -4.601Z" fill="url(#w60)"/>
<path d="M0 0L-8.990 -4.818L-9.295 -4.199Z" fill="url(#w61)"/>
<path d="M0 0L-9.192 -4.421L-9.470 -3.790Z" fill="url(#w62)"/>
<path d="M0 0L-9.376 -4.016L-9.626 -3.373Z" fill="url(#w63)"/>
<path d="M0 0L-9.542 -3.603L-9.764 -2.950Z" fill="url(#w64)"/>
<path d="M0 0L-9.690 -3.184L-9.883 -2.522Z" fill="url(#w65)"/>
<path d="M0 0L-9.820 -2.758L-9.984 -2.088Z" fill="url(#w66)"/>
<path d="M0 0L-9.931 -2.327L-10.066 -1.651Z" fill="url(#w67)"/>
<path d="M0 0L-10.023 -1.892L-10.128 -1.210Z" fill="url(#w68)"/>
<path d="M0 0L-10.096 -1.453L-10.171 -0.767Z" fill="url(#w69)"/>
<path d="M0 0L-10.150 -1.011L-10.195 -0.323Z" fill="url(#w70)"/>
<path d="M0 0L-10.184 -0.567L-10.199 0.122Z" fill="url(#w71)"/>
<path d="M0 0L-10.199 -0.122L-10.184 0.567Z" fill="url(#w72)"/>
<path d="M0 0L-10.195 0.323L-10.150 1.011Z" fill="url(#w73)"/>
<path d="M0 0L-10.171 0.767L-10.096 1.453Z" fill="url(#w74)"/>
<path d="M0 0L-10.128 1.210L-10.023 1.892Z" fill="url(#w75)"/>
<path d="M0 0L-10.066 1.651L-9.931 2.327Z" fill="url(#w76)"/>
<path d="M0 0L-9.984 2.088L-9.820 2.758Z" fill="url(#w77)"/>
<path d="M0 0L-9.883 2.522L-9.690 3.184Z" fill="url(#w78)"/>
<path d="M0 0L-9.764 2.950L-9.542 3.603Z" fill="url(#w79)"/>
<path d="M0 0L-9.626 3.373L-9.376 4.016Z" fill="url(#w80)"/>
<path d="M0 0L-9.470 3.790L-9.192 4.421Z" fill="url(#w81)"/>
<path d="M0 0L-9.295 4.199L-8.990 4.818Z" fill="url(#w82)"/>
<path d="M0 0L-9.103 4.601L-8.772 5.206Z" fill="url(#w83)"/>
<path d="M0 0L-8.894 4.994L-8.536 5.583Z" fill="url(#w84)"/>
<path d="M0 0L-8.668 5.377L-8.285 5.950Z" fill="url(#w85)"/>
<path d="M0 0L-8.425 5.750L-8.017 6.306Z" fill="url(#w86)"/>
<path d="M0 0L-8.166 6.112L-7.734 6.650Z" fill="url(#w87)"/>
<path d="M0 0L-7.892 6.462L-7.437 6.981Z" fill="url(#w88)"/>
<path d="M0 0L-7.602 6.800L-7.125 7.299Z" fill="url(#w89)"/>
<path d="M0 0L-7.299 7.125L-6.800 7.602Z" fill="url(#w90)"/>
<path d="M0 0L-6.981 7.437L-6.462 7.892Z" fill="url(#w91)"/>
<path d="M0 0L-6.650 7.734L-6.112 8.166Z" fill="url(#w92)"/>
<path d="M0 0L-6.306 8.017L-5.750 8.425Z" fill="url(#w93)"/>
<path d="M0 0L-5.950 8.285L-5.377 8.668Z" fill="url(#w94)"/>
<path d="M0 0L-5.583 8.536L-4.994 8.894Z" fill="url(#w95)"/>
<path d="M0 0L-5.206 8.772L-4.601 9.103Z" fill="url(#w96)"/>
<path d="M0 0L-4.818 8.990L-4.199 9.295Z" fill="url(#w97)"/>
<path d="M0 0L-4.421 9.192L-3.790 9.470Z" fill="url(#w98)"/>
<path d="M0 0L-4.016 9.376L-3.373 9.626Z" fill="url(#w99)"/>
<path d="M0 0L-3.603 9.542L-2.950 9.764Z" fill="url(#w100)"/>
<path d="M0 0L-3.184 9.690L-2.522 9.883Z" fill="url(#w101)"/>
<path d="M0 0L-2.758 9.820L-2.088 9.984Z" fill="url(#w102)"/>
<path d="M0 0L-2.327 9.931L-1.651 10.066Z" fill="url(#w103)"/>
<path d="M0 0L-1.892 10.023L-1.210 10.128Z" fill="url(#w104)"/>
<path d="M0 0L-1.453 10.096L-0.767 10.171Z" fill="url(#w105)"/>
<path d="M0 0L-1.011 10.150L-0.323 10.195Z" fill="url(#w106)"/>
<path d="M0 0L-0.567 10.184L0.122 10.199Z" fill="url(#w107)"/>
<path d="M0 0L-0.122 10.199L0.567 10.184Z" fill="url(#w108)"/>
<path d="M0 0L0.323 10.195L1.011 10.150Z" fill="url(#w109)"/>
<path d="M0 0L0.767 10.171L1.453 10.096Z" fill="url(#w110)"/>
<path d="M0 0L1.210 10.128L1.892 10.023Z" fill="url(#w111)"/>
<path d="M0 0L1.651 10.066L2.327 9.931Z" fill="url(#w112)"/>
<path d="M0 0L2.088 9.984L2.758 9.820Z" fill="url(#w113)"/>
<path d="M0 0L2.522 9.883L3.184 9.690Z" fill="url(#w114)"/>
<path d="M0 0L2.950 9.764L3.603 9.542Z" fill="url(#w115)"/>
<path d="M0 0L3.373 9.626L4.016 9.376Z" fill="url(#w116)"/>
<path d="M0 0L3.790 9.470L4.421 9.192Z" fill="url(#w117)"/>
<path d="M0 0L4.199 9.295L4.818 8.990Z" fill="url(#w118)"/>
<path d="M0 0L4.601 9.103L5.206 8.772Z" fill="url(#w119)"/>
<path d="M0 0L4.994 8.894L5.583 8.536Z" fill="url(#w120)"/>
<path d="M0 0L5.377 8.668L5.950 8.285Z" fill="url(#w121)"/>
<path d="M0 0L5.750 8.425L6.306 8.017Z" fill="url(#w122)"/>
<path d="M0 0L6.112 8.166L6.650 7.734Z" fill="url(#w123)"/>
<path d="M0 0L6.462 7.892L6.981 7.437Z" fill="url(#w124)"/>
<path d="M0 0L6.800 7.602L7.299 7.125Z" fill="url(#w125)"/>
<path d="M0 0L7.125 7.299L7.602 6.800Z" fill="url(#w126)"/>
<path d="M0 0L7.437 6.981L7.892 6.462Z" fill="url(#w127)"/>
<path d="M0 0L7.734 6.650L8.166 6.112Z" fill="url(#w128)"/>
<path d="M0 0L8.017 6.306L8.425 5.750Z" fill="url(#w129)"/>
<path d="M0 0L8.285 5.950L8.668 5.377Z" fill="url(#w130)"/>
<path d="M0 0L8.536 5.583L8.894 4.994Z" fill="url(#w131)"/>
<path d="M0 0L8.772 5.206L9.103 4.601Z" fill="url(#w132)"/>
<path d="M0 0L8.990 4.818L9.295 4.199Z" fill="url(#w133)"/>
<path d="M0 0L9.192 4.421L9.470 3.790Z" fill="url(#w134)"/>
<path d="M0 0L9.376 4.016L9.626 3.373Z" fill="url(#w135)"/>
<path d="M0 0L9.542 3.603L9.764 2.950Z" fill="url(#w136)"/>
<path d="M0 0L9.690 3.184L9.883 2.522Z" fill="url(#w137)"/>
<path d="M0 0L9.820 2.758L9.984 2.088Z" fill="url(#w138)"/>
<path d="M0 0L9.931 2.327L10.066 1.651Z" fill="url(#w139)"/>
<path d="M0 0L10.023 1.892L10.128 1.210Z" fill="url(#w140)"/>
<path d="M0 0L10.096 1.453L10.171 0.767Z" fill="url(#w141)"/>
<path d="M0 0L10.150 1.011L10.195 0.323Z" fill="url(#w142)"/>
<path d="M0 0L10.184 0.567L10.199 -0.122Z" fill="url(#w143)"/>
</g>
<circle cx="0" cy="0" r="6.75" fill="#fff"/>
</g></g></g>
<rect x="47" y="546" width="356" height="340" filter="url(#nz)" opacity="0.28"/>
<ellipse cx="225.6" cy="716.4" rx="157.5" ry="151" fill="none" stroke="#1838c8" stroke-opacity="0.16" stroke-width="1.3" stroke-dasharray="7 6"/>
<ellipse cx="225.6" cy="716.4" rx="146" ry="140" fill="none" stroke="#40c8ff" stroke-opacity="0.18" stroke-width="1.2" stroke-dasharray="3 5"/>
<ellipse cx="225.85" cy="716.6" rx="125.85" ry="120.4" fill="#fff"/>
<ellipse cx="225.85" cy="716.6" rx="126.4" ry="120.9" fill="none" stroke="#ff0000" stroke-width="1.3"/>
<ellipse cx="225.75" cy="715.9" rx="177.4" ry="169.05" fill="none" stroke="#000" stroke-width="3.7"/>
<rect x="47.5" y="546" width="355.5" height="340" fill="none" stroke="#222" stroke-width="1"/>
<g stroke="#222" stroke-width="1">
<line x1="47" y1="546" x2="53" y2="546"/>
<line x1="47" y1="886" x2="47" y2="880"/>
<line x1="47" y1="631" x2="53" y2="631"/>
<line x1="136" y1="886" x2="136" y2="880"/>
<line x1="47" y1="716" x2="53" y2="716"/>
<line x1="225" y1="886" x2="225" y2="880"/>
<line x1="47" y1="801" x2="53" y2="801"/>
<line x1="314" y1="886" x2="314" y2="880"/>
<line x1="47" y1="886" x2="53" y2="886"/>
<line x1="403" y1="886" x2="403" y2="880"/>
</g>
<g font-family="'Liberation Serif',serif" font-size="15.2" fill="#222">
<text x="39" y="552.6" text-anchor="end">20</text>
<text x="47.8" y="906.1" text-anchor="middle">20</text>
<text x="39" y="637.6" text-anchor="end">15</text>
<text x="136.8" y="906.1" text-anchor="middle">15</text>
<text x="39" y="722.6" text-anchor="end">10</text>
<text x="225.8" y="906.1" text-anchor="middle">10</text>
<text x="39" y="807.6" text-anchor="end">5</text>
<text x="314.8" y="906.1" text-anchor="middle">5</text>
<text x="39" y="892.6" text-anchor="end">0</text>
<text x="403.8" y="906.1" text-anchor="middle">0</text>
</g>
<text transform="translate(17.5,800) rotate(-90)" font-family="'Liberation Serif',serif" font-size="19.5" fill="#222" textLength="188" lengthAdjust="spacingAndGlyphs">Vertical position [mm]</text>
<text x="120.5" y="923.8" font-family="'Liberation Serif',serif" font-size="19.5" fill="#222" textLength="208" lengthAdjust="spacingAndGlyphs">Horizontal position [mm]</text>
<rect x="415" y="547" width="21" height="339" fill="url(#cb)" stroke="#333" stroke-width="1"/>
<g stroke="#222" stroke-width="1">
<line x1="436" y1="548.0" x2="442.2" y2="548.0"/>
<line x1="436" y1="590.1" x2="442.2" y2="590.1"/>
<line x1="436" y1="632.2" x2="442.2" y2="632.2"/>
<line x1="436" y1="674.3" x2="442.2" y2="674.3"/>
<line x1="436" y1="716.4" x2="442.2" y2="716.4"/>
<line x1="436" y1="758.5" x2="442.2" y2="758.5"/>
<line x1="436" y1="800.6" x2="442.2" y2="800.6"/>
<line x1="436" y1="842.7" x2="442.2" y2="842.7"/>
<line x1="436" y1="884.8" x2="442.2" y2="884.8"/>
</g>
<g font-family="'Liberation Serif',serif" font-size="15.8" fill="#222">
<text x="448.8" y="553.4">0.0</text>
<text x="453" y="595.5"><tspan x="448.4">-</tspan><tspan x="454.2">0.3</tspan></text>
<text x="453" y="637.6"><tspan x="448.4">-</tspan><tspan x="454.2">0.5</tspan></text>
<text x="453" y="679.7"><tspan x="448.4">-</tspan><tspan x="454.2">0.8</tspan></text>
<text x="453" y="721.8"><tspan x="448.4">-</tspan><tspan x="454.2">1.0</tspan></text>
<text x="453" y="763.9"><tspan x="448.4">-</tspan><tspan x="454.2">1.3</tspan></text>
<text x="453" y="806.0"><tspan x="448.4">-</tspan><tspan x="454.2">1.5</tspan></text>
<text x="453" y="848.1"><tspan x="448.4">-</tspan><tspan x="454.2">1.8</tspan></text>
<text x="453" y="890.2"><tspan x="448.4">-</tspan><tspan x="454.2">2.0</tspan></text>
</g>
<g transform="translate(513,749.5) rotate(-90)" font-family="'Liberation Serif','DejaVu Serif',serif" fill="#222"><text x="-0.5" y="0" font-size="21" font-style="italic">ϕ</text><text x="11" y="6.2" font-size="12.8" textLength="21" lengthAdjust="spacingAndGlyphs">well</text><text x="38.5" y="0" font-size="20.5">[<tspan dx="-2.6">V</tspan><tspan dx="-2.6">]</tspan></text></g>
<text transform="translate(117.5,612) rotate(-33)" font-family="'Liberation Serif',serif" font-weight="bold" font-size="17" fill="#fff" textLength="53" lengthAdjust="spacingAndGlyphs">Conus</text>
<text x="199" y="637" font-family="'Liberation Serif',serif" font-weight="bold" font-size="15.5" fill="#111" textLength="79" lengthAdjust="spacingAndGlyphs">Filter field</text>
<path d="M200 647H277.7V743" fill="none" stroke="#777" stroke-width="1"/>
<path d="M193 647l9 -3.8v7.6z M277.7 751l-3.8 -9h7.6z" fill="#000"/>
<text transform="translate(285.5,642) rotate(90)" font-family="'Liberation Serif',serif" font-weight="bold" font-size="15.5" fill="#111" textLength="112" lengthAdjust="spacingAndGlyphs">Deflection field</text>
<text x="169" y="723.3" font-family="'Liberation Serif',serif" font-weight="bold" font-size="19" fill="#111" textLength="86" lengthAdjust="spacingAndGlyphs">Aperture</text>
<text x="357" y="585" font-family="'Liberation Sans',sans-serif" font-size="26.5" fill="#fff">(c)</text>
<rect x="338" y="701" width="47.5" height="28.5" fill="#fff" stroke="#bbb" stroke-width="1"/>
<text x="340.6" y="720.8" font-family="'Liberation Serif',serif" font-weight="bold" font-size="15.5" fill="#111" textLength="41" lengthAdjust="spacingAndGlyphs">Right</text>
<rect x="198.5" y="831.5" width="62.3" height="27.8" fill="#fff" stroke="#bbb" stroke-width="1"/>
<text x="201.6" y="851.5" font-family="'Liberation Serif',serif" font-weight="bold" font-size="15.5" fill="#111" textLength="56" lengthAdjust="spacingAndGlyphs">Bottom</text>
<circle cx="393.1" cy="714.4" r="4.5" fill="#f01818"/>
<circle cx="224.5" cy="872.2" r="4.5" fill="#f01818"/>
<line x1="224.5" y1="877" x2="224.5" y2="886" stroke="#222" stroke-width="1"/>
</svg>
</body></html>
